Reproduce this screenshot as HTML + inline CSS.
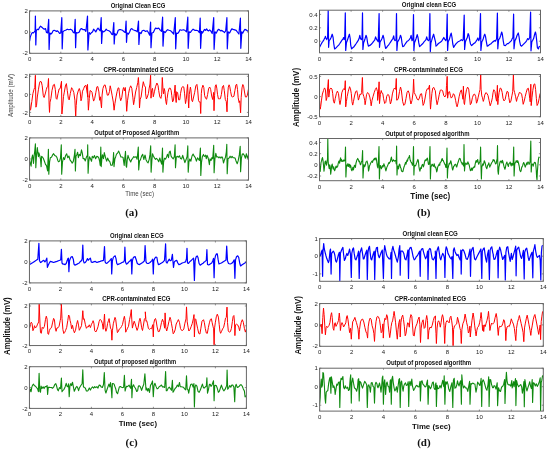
<!DOCTYPE html>
<html><head><meta charset="utf-8"><style>html,body{margin:0;padding:0;background:#fff;width:550px;height:451px;overflow:hidden}svg{display:block;filter:blur(0.3px)}</style></head>
<body>
<svg width="550" height="451" viewBox="0 0 550 451">
<rect width="550" height="451" fill="#fff"/>
<clipPath id="ca1"><rect x="29.55" y="10.9" width="218.95" height="42.4"/></clipPath>
<polyline clip-path="url(#ca1)" points="29.6,41.2 30.2,37.4 31.3,34.1 32.4,32.5 33.5,32.8 34.3,31.9 35.1,30.8 35.4,16.1 35.8,45.0 36.3,30.8 37.3,29.2 38.4,29.7 39.5,27.5 40.5,26.2 41.6,27.0 43.3,28.6 44.4,29.2 45.5,28.6 46.5,32.5 47.6,33.0 48.7,19.4 49.1,49.4 49.8,33.0 50.9,34.1 52.0,33.0 53.1,30.8 54.2,30.3 55.3,30.8 56.4,31.4 57.5,30.8 58.5,31.9 59.6,33.5 60.7,33.0 61.8,17.7 62.2,48.8 62.9,31.9 64.0,30.8 65.6,30.3 67.3,29.2 68.9,29.7 70.5,29.2 72.2,30.3 73.3,32.5 74.4,33.0 75.2,19.4 75.6,47.7 76.2,32.5 77.6,33.0 79.3,31.9 80.4,29.2 81.5,28.6 83.1,29.7 84.7,29.7 85.8,31.4 86.0,30.8 87.5,16.1 87.9,49.9 89.1,32.5 90.4,34.1 91.5,32.5 92.5,31.9 93.6,29.2 94.7,30.3 95.8,31.9 96.9,29.7 98.0,28.1 99.1,29.7 100.2,30.8 101.2,17.7 101.6,43.4 102.4,30.8 103.5,31.9 105.1,30.8 106.2,29.2 107.3,30.3 108.9,30.8 110.5,31.9 111.6,34.1 112.7,34.6 113.8,22.6 114.2,43.9 114.9,33.5 116.0,35.2 117.1,33.5 118.2,30.3 119.3,29.7 120.9,29.7 122.5,30.3 124.2,31.9 125.3,32.5 126.1,21.0 126.5,42.3 127.2,33.0 128.5,34.1 129.6,31.9 130.7,29.2 131.8,28.6 132.9,29.7 134.5,30.3 136.2,30.8 137.3,31.9 138.5,21.0 138.9,44.5 139.7,32.5 141.1,33.5 142.2,30.8 143.8,30.3 145.6,31.4 147.3,30.8 148.9,33.5 149.7,35.2 150.6,22.1 151.0,47.7 151.9,33.0 153.3,32.5 154.4,30.3 155.5,28.1 157.1,28.6 158.7,28.1 160.4,30.3 161.5,31.4 162.6,17.2 163.0,46.1 163.9,31.4 165.3,32.5 166.4,30.8 167.5,29.7 169.1,30.3 170.7,30.8 172.4,32.5 173.7,34.1 175.3,17.7 175.7,48.8 176.5,33.0 177.8,33.5 178.9,31.9 180.0,29.7 181.6,30.3 183.3,29.7 184.9,30.3 186.5,31.9 187.8,17.2 188.2,48.3 189.1,31.9 190.4,32.5 191.5,30.8 193.1,29.2 194.7,30.3 196.4,30.3 198.0,30.8 199.4,32.5 200.2,18.2 200.6,48.3 201.5,31.4 202.5,33.0 203.6,30.9 204.6,29.4 205.6,30.4 206.6,28.9 207.6,30.4 208.7,30.9 209.7,29.9 210.7,30.9 212.2,33.5 213.7,17.7 214.1,49.3 215.1,31.9 216.3,33.0 217.3,30.9 218.4,29.4 219.6,29.9 220.9,30.9 221.9,30.4 223.2,31.4 224.5,32.5 225.7,30.9 226.9,17.7 227.3,48.8 228.2,31.9 229.6,33.0 230.6,30.9 231.8,28.9 233.1,29.4 234.7,29.9 236.2,30.4 237.7,32.5 238.9,34.0 240.4,18.2 240.8,48.3 241.8,31.9 242.8,33.0 243.8,30.9 244.9,29.4 245.9,29.9 246.9,30.4 248.4,31.4" fill="none" stroke="#0000ff" stroke-width="1.2" stroke-linejoin="round"/>
<rect x="29.55" y="10.9" width="218.95" height="42.40" fill="none" stroke="#666666" stroke-width="1"/>
<line x1="29.6" y1="53.3" x2="29.6" y2="51.699999999999996" stroke="#666666" stroke-width="0.7"/>
<line x1="29.6" y1="10.9" x2="29.6" y2="12.5" stroke="#666666" stroke-width="0.7"/>
<text x="29.6" y="61.2" text-anchor="middle" style="font-family:'Liberation Sans',Arial,sans-serif;font-size:6.0px;fill:#222">0</text>
<line x1="60.8" y1="53.3" x2="60.8" y2="51.699999999999996" stroke="#666666" stroke-width="0.7"/>
<line x1="60.8" y1="10.9" x2="60.8" y2="12.5" stroke="#666666" stroke-width="0.7"/>
<text x="60.8" y="61.2" text-anchor="middle" style="font-family:'Liberation Sans',Arial,sans-serif;font-size:6.0px;fill:#222">2</text>
<line x1="92.1" y1="53.3" x2="92.1" y2="51.699999999999996" stroke="#666666" stroke-width="0.7"/>
<line x1="92.1" y1="10.9" x2="92.1" y2="12.5" stroke="#666666" stroke-width="0.7"/>
<text x="92.1" y="61.2" text-anchor="middle" style="font-family:'Liberation Sans',Arial,sans-serif;font-size:6.0px;fill:#222">4</text>
<line x1="123.4" y1="53.3" x2="123.4" y2="51.699999999999996" stroke="#666666" stroke-width="0.7"/>
<line x1="123.4" y1="10.9" x2="123.4" y2="12.5" stroke="#666666" stroke-width="0.7"/>
<text x="123.4" y="61.2" text-anchor="middle" style="font-family:'Liberation Sans',Arial,sans-serif;font-size:6.0px;fill:#222">6</text>
<line x1="154.7" y1="53.3" x2="154.7" y2="51.699999999999996" stroke="#666666" stroke-width="0.7"/>
<line x1="154.7" y1="10.9" x2="154.7" y2="12.5" stroke="#666666" stroke-width="0.7"/>
<text x="154.7" y="61.2" text-anchor="middle" style="font-family:'Liberation Sans',Arial,sans-serif;font-size:6.0px;fill:#222">8</text>
<line x1="185.9" y1="53.3" x2="185.9" y2="51.699999999999996" stroke="#666666" stroke-width="0.7"/>
<line x1="185.9" y1="10.9" x2="185.9" y2="12.5" stroke="#666666" stroke-width="0.7"/>
<text x="185.9" y="61.2" text-anchor="middle" style="font-family:'Liberation Sans',Arial,sans-serif;font-size:6.0px;fill:#222">10</text>
<line x1="217.2" y1="53.3" x2="217.2" y2="51.699999999999996" stroke="#666666" stroke-width="0.7"/>
<line x1="217.2" y1="10.9" x2="217.2" y2="12.5" stroke="#666666" stroke-width="0.7"/>
<text x="217.2" y="61.2" text-anchor="middle" style="font-family:'Liberation Sans',Arial,sans-serif;font-size:6.0px;fill:#222">12</text>
<line x1="248.5" y1="53.3" x2="248.5" y2="51.699999999999996" stroke="#666666" stroke-width="0.7"/>
<line x1="248.5" y1="10.9" x2="248.5" y2="12.5" stroke="#666666" stroke-width="0.7"/>
<text x="248.5" y="61.2" text-anchor="middle" style="font-family:'Liberation Sans',Arial,sans-serif;font-size:6.0px;fill:#222">14</text>
<line x1="29.55" y1="10.9" x2="31.150000000000002" y2="10.9" stroke="#666666" stroke-width="0.7"/>
<line x1="248.5" y1="10.9" x2="246.9" y2="10.9" stroke="#666666" stroke-width="0.7"/>
<text x="27.8" y="13.0" text-anchor="end" style="font-family:'Liberation Sans',Arial,sans-serif;font-size:6.0px;fill:#222">2</text>
<line x1="29.55" y1="32.1" x2="31.150000000000002" y2="32.1" stroke="#666666" stroke-width="0.7"/>
<line x1="248.5" y1="32.1" x2="246.9" y2="32.1" stroke="#666666" stroke-width="0.7"/>
<text x="27.8" y="34.2" text-anchor="end" style="font-family:'Liberation Sans',Arial,sans-serif;font-size:6.0px;fill:#222">0</text>
<line x1="29.55" y1="53.3" x2="31.150000000000002" y2="53.3" stroke="#666666" stroke-width="0.7"/>
<line x1="248.5" y1="53.3" x2="246.9" y2="53.3" stroke="#666666" stroke-width="0.7"/>
<text x="27.8" y="55.4" text-anchor="end" style="font-family:'Liberation Sans',Arial,sans-serif;font-size:6.0px;fill:#222">-2</text>
<text x="138.05" y="8.1" text-anchor="middle" textLength="54.60" lengthAdjust="spacingAndGlyphs" style="font-family:'Liberation Sans',Arial,sans-serif;font-weight:bold;font-size:6.6px;fill:#111">Original Clean ECG</text>
<clipPath id="ca2"><rect x="29.55" y="74.25" width="218.95" height="42.25"/></clipPath>
<polyline clip-path="url(#ca2)" points="29.6,102.5 30.2,110.3 30.7,109.3 31.8,101.5 32.9,93.7 34.0,89.3 34.8,87.4 35.4,75.3 35.9,107.2 36.5,105.7 37.3,97.0 38.4,89.8 39.5,83.1 40.2,81.4 41.3,81.8 42.2,85.7 43.3,95.7 44.1,97.5 45.2,94.0 46.3,89.6 47.1,87.1 47.9,86.3 48.5,78.5 49.1,104.1 49.5,112.4 50.0,102.2 50.9,98.6 52.0,90.4 53.3,85.0 54.4,84.3 55.3,89.5 56.1,98.3 56.9,99.3 58.0,93.7 59.1,89.0 60.2,88.5 61.5,81.3 61.9,114.0 62.7,105.9 63.5,96.4 64.3,92.2 65.4,86.0 66.4,83.6 67.3,90.7 68.4,98.7 69.2,99.9 70.3,93.5 71.6,87.7 72.7,89.5 73.8,92.5 74.9,100.2 75.7,116.7 76.2,105.6 77.1,95.0 78.2,91.0 79.3,88.5 80.1,91.1 81.0,100.8 81.7,98.3 82.5,91.2 83.6,88.8 84.7,86.0 85.8,85.3 86.9,90.1 87.8,97.1 86.9,86.6 87.5,84.4 88.0,100.4 88.4,110.2 89.3,98.6 90.1,90.5 90.9,90.9 92.0,92.3 92.8,97.2 93.6,101.1 94.7,98.4 95.8,92.7 96.9,86.8 97.8,86.6 98.9,91.9 99.6,100.3 100.4,96.8 101.1,104.7 101.5,107.9 102.1,95.0 102.9,88.6 104.0,85.4 105.1,84.9 106.2,89.4 107.3,95.2 108.4,95.1 109.5,91.4 110.2,85.8 111.1,89.8 112.2,95.8 113.3,102.1 114.1,110.2 114.9,103.7 116.0,97.1 117.1,91.5 118.2,87.8 118.9,88.0 119.8,96.9 120.7,100.7 121.8,97.4 122.9,89.6 123.6,87.5 124.4,90.8 125.3,87.5 126.1,99.8 126.7,111.3 127.5,100.8 128.5,93.8 129.6,88.4 130.7,85.8 131.8,88.3 132.9,97.8 133.6,104.7 134.5,99.3 135.6,92.0 136.7,87.5 137.8,82.6 138.4,77.5 138.9,85.3 139.5,108.0 140.2,99.2 141.1,97.0 142.2,88.8 143.3,81.7 144.4,85.8 145.5,87.1 145.6,93.9 146.4,99.0 147.3,97.1 148.4,93.6 149.2,88.1 150.0,84.0 150.6,75.3 151.0,98.2 151.6,90.6 152.5,88.3 153.3,96.8 154.4,91.8 155.5,86.8 156.9,83.0 158.0,85.4 158.7,90.5 159.8,96.9 160.9,98.4 161.7,94.3 162.3,77.5 163.0,89.9 163.6,93.8 164.2,88.5 164.9,91.3 165.8,101.3 166.5,104.5 167.1,98.5 168.0,92.4 169.1,88.3 170.2,88.1 171.1,90.3 171.8,95.7 172.6,101.9 173.5,100.0 174.3,93.3 175.1,85.1 175.6,97.0 176.2,102.5 176.7,91.7 177.6,92.6 178.7,99.9 179.8,99.7 180.5,93.7 181.6,88.1 182.7,86.5 183.8,87.1 184.6,93.8 185.5,103.6 186.3,99.4 187.1,89.1 187.6,84.5 188.2,98.8 188.7,108.0 189.3,94.3 190.4,87.1 190.9,89.8 191.8,100.3 192.5,101.7 193.6,97.0 194.7,92.3 195.8,85.9 196.9,84.4 197.7,90.1 198.5,100.3 199.4,102.1 200.2,101.9 200.7,113.5 201.3,93.7 201.8,88.8 202.9,85.2 203.8,87.5 204.6,95.5 205.6,98.4 206.6,99.2 207.6,94.6 208.7,88.3 209.7,87.0 210.7,89.6 211.7,96.0 212.7,99.5 213.6,92.4 214.0,110.7 214.6,95.3 215.3,86.0 216.1,84.7 216.8,88.2 217.5,94.3 218.4,98.8 219.4,98.8 220.4,98.7 221.4,94.5 222.4,86.9 223.5,85.4 224.3,90.7 225.3,99.4 226.3,101.6 227.0,111.8 227.5,97.4 228.3,87.2 229.1,84.8 229.8,86.8 230.6,91.4 231.6,96.4 232.6,96.9 233.9,96.3 234.9,90.6 235.9,85.0 236.7,84.2 237.5,89.4 238.2,97.8 239.1,102.6 239.8,100.8 240.6,112.8 241.2,97.3 242.0,87.9 242.8,84.5 243.6,86.2 244.5,92.0 245.4,96.9 246.4,97.1 247.4,95.1 248.4,89.3" fill="none" stroke="#ff0000" stroke-width="1.0" stroke-linejoin="round"/>
<rect x="29.55" y="74.25" width="218.95" height="42.25" fill="none" stroke="#666666" stroke-width="1"/>
<line x1="29.6" y1="116.5" x2="29.6" y2="114.9" stroke="#666666" stroke-width="0.7"/>
<line x1="29.6" y1="74.25" x2="29.6" y2="75.85" stroke="#666666" stroke-width="0.7"/>
<text x="29.6" y="124.4" text-anchor="middle" style="font-family:'Liberation Sans',Arial,sans-serif;font-size:6.0px;fill:#222">0</text>
<line x1="60.8" y1="116.5" x2="60.8" y2="114.9" stroke="#666666" stroke-width="0.7"/>
<line x1="60.8" y1="74.25" x2="60.8" y2="75.85" stroke="#666666" stroke-width="0.7"/>
<text x="60.8" y="124.4" text-anchor="middle" style="font-family:'Liberation Sans',Arial,sans-serif;font-size:6.0px;fill:#222">2</text>
<line x1="92.1" y1="116.5" x2="92.1" y2="114.9" stroke="#666666" stroke-width="0.7"/>
<line x1="92.1" y1="74.25" x2="92.1" y2="75.85" stroke="#666666" stroke-width="0.7"/>
<text x="92.1" y="124.4" text-anchor="middle" style="font-family:'Liberation Sans',Arial,sans-serif;font-size:6.0px;fill:#222">4</text>
<line x1="123.4" y1="116.5" x2="123.4" y2="114.9" stroke="#666666" stroke-width="0.7"/>
<line x1="123.4" y1="74.25" x2="123.4" y2="75.85" stroke="#666666" stroke-width="0.7"/>
<text x="123.4" y="124.4" text-anchor="middle" style="font-family:'Liberation Sans',Arial,sans-serif;font-size:6.0px;fill:#222">6</text>
<line x1="154.7" y1="116.5" x2="154.7" y2="114.9" stroke="#666666" stroke-width="0.7"/>
<line x1="154.7" y1="74.25" x2="154.7" y2="75.85" stroke="#666666" stroke-width="0.7"/>
<text x="154.7" y="124.4" text-anchor="middle" style="font-family:'Liberation Sans',Arial,sans-serif;font-size:6.0px;fill:#222">8</text>
<line x1="185.9" y1="116.5" x2="185.9" y2="114.9" stroke="#666666" stroke-width="0.7"/>
<line x1="185.9" y1="74.25" x2="185.9" y2="75.85" stroke="#666666" stroke-width="0.7"/>
<text x="185.9" y="124.4" text-anchor="middle" style="font-family:'Liberation Sans',Arial,sans-serif;font-size:6.0px;fill:#222">10</text>
<line x1="217.2" y1="116.5" x2="217.2" y2="114.9" stroke="#666666" stroke-width="0.7"/>
<line x1="217.2" y1="74.25" x2="217.2" y2="75.85" stroke="#666666" stroke-width="0.7"/>
<text x="217.2" y="124.4" text-anchor="middle" style="font-family:'Liberation Sans',Arial,sans-serif;font-size:6.0px;fill:#222">12</text>
<line x1="248.5" y1="116.5" x2="248.5" y2="114.9" stroke="#666666" stroke-width="0.7"/>
<line x1="248.5" y1="74.25" x2="248.5" y2="75.85" stroke="#666666" stroke-width="0.7"/>
<text x="248.5" y="124.4" text-anchor="middle" style="font-family:'Liberation Sans',Arial,sans-serif;font-size:6.0px;fill:#222">14</text>
<line x1="29.55" y1="76.3" x2="31.150000000000002" y2="76.3" stroke="#666666" stroke-width="0.7"/>
<line x1="248.5" y1="76.3" x2="246.9" y2="76.3" stroke="#666666" stroke-width="0.7"/>
<text x="27.8" y="78.4" text-anchor="end" style="font-family:'Liberation Sans',Arial,sans-serif;font-size:6.0px;fill:#222">2</text>
<line x1="29.55" y1="94.4" x2="31.150000000000002" y2="94.4" stroke="#666666" stroke-width="0.7"/>
<line x1="248.5" y1="94.4" x2="246.9" y2="94.4" stroke="#666666" stroke-width="0.7"/>
<text x="27.8" y="96.5" text-anchor="end" style="font-family:'Liberation Sans',Arial,sans-serif;font-size:6.0px;fill:#222">0</text>
<line x1="29.55" y1="112.4" x2="31.150000000000002" y2="112.4" stroke="#666666" stroke-width="0.7"/>
<line x1="248.5" y1="112.4" x2="246.9" y2="112.4" stroke="#666666" stroke-width="0.7"/>
<text x="27.8" y="114.5" text-anchor="end" style="font-family:'Liberation Sans',Arial,sans-serif;font-size:6.0px;fill:#222">-2</text>
<text x="138.45" y="71.5" text-anchor="middle" textLength="70.00" lengthAdjust="spacingAndGlyphs" style="font-family:'Liberation Sans',Arial,sans-serif;font-weight:bold;font-size:6.6px;fill:#111">CPR-contaminated ECG</text>
<clipPath id="ca3"><rect x="29.55" y="137.9" width="218.95" height="42.19999999999999"/></clipPath>
<polyline clip-path="url(#ca3)" points="29.6,160.1 30.4,163.5 31.1,166.2 31.8,158.2 32.6,155.0 33.5,163.4 34.0,156.9 34.8,150.6 35.4,143.7 35.8,167.7 36.5,155.7 37.3,147.5 37.8,151.8 38.4,156.6 38.9,152.9 39.8,155.9 40.5,159.2 41.1,166.6 41.6,156.4 42.4,157.0 43.3,158.3 44.4,161.3 45.5,164.4 46.5,165.7 47.6,171.0 48.4,149.2 48.8,174.3 49.6,161.9 50.4,157.5 51.5,157.3 52.5,155.2 53.6,153.7 54.7,155.4 55.8,155.9 56.9,157.3 57.7,160.2 58.5,161.8 59.6,161.1 60.5,157.8 61.3,144.8 61.7,174.3 62.5,162.0 63.5,157.6 64.5,159.6 65.6,155.5 66.7,153.8 67.8,157.8 68.9,156.0 70.0,159.8 71.1,161.3 72.2,163.1 73.3,161.4 74.4,155.1 75.0,149.2 75.4,171.0 76.0,156.2 76.9,154.5 77.6,152.2 78.4,157.7 79.3,154.4 80.4,155.7 81.5,149.9 82.3,153.1 83.1,158.7 84.2,158.5 85.3,160.9 86.4,157.1 87.5,155.2 87.7,144.8 88.1,173.2 88.7,162.0 89.5,156.8 90.4,158.6 91.5,161.3 92.3,156.2 93.4,157.8 94.5,155.6 95.6,158.8 96.7,156.4 97.8,156.6 98.9,158.3 99.6,161.0 100.2,165.5 100.8,147.0 101.2,166.6 101.8,159.6 102.4,154.7 103.5,158.6 104.3,152.5 105.1,156.0 105.9,158.8 106.7,161.2 107.6,158.1 108.7,160.5 109.8,161.6 110.9,165.3 112.2,165.3 113.1,160.6 113.6,152.5 114.0,166.6 114.9,158.7 115.7,156.7 116.5,154.2 117.6,153.1 118.7,151.1 119.8,153.9 120.9,157.0 122.0,157.0 123.1,157.6 124.2,165.5 124.7,159.4 125.5,151.4 126.1,166.0 126.6,167.3 127.2,160.0 128.0,155.3 128.8,158.1 129.6,159.7 130.7,162.0 131.6,159.7 132.7,158.3 133.8,156.6 134.9,157.4 136.0,156.6 137.1,159.2 138.3,147.0 138.7,169.9 139.5,161.1 140.5,159.6 141.6,156.1 142.7,154.3 143.8,159.5 144.9,155.4 145.1,155.1 146.0,159.7 147.1,161.8 148.1,162.8 149.2,159.3 150.0,154.4 150.7,145.9 151.1,172.1 151.9,160.3 152.5,153.8 153.3,155.7 154.4,157.9 155.5,159.3 156.5,158.3 157.6,159.5 158.7,161.8 159.8,158.0 160.9,161.8 161.7,164.2 162.5,148.1 162.9,172.1 163.6,162.1 164.5,158.2 165.6,159.1 166.7,156.6 167.5,154.2 168.5,157.6 169.3,152.1 170.2,151.1 171.1,156.1 172.1,157.7 173.2,158.8 174.3,156.7 175.1,144.8 175.5,167.7 176.3,157.1 177.3,156.3 178.4,157.2 179.5,155.8 180.5,158.6 181.6,159.0 182.7,155.4 183.8,159.0 184.9,162.6 186.0,159.8 187.1,156.3 187.8,145.9 188.2,172.1 188.9,162.1 189.8,159.0 190.9,161.2 192.0,156.0 193.1,154.1 194.2,156.2 195.3,157.7 196.4,161.2 197.5,157.8 198.5,159.1 199.4,160.5 200.4,148.1 200.8,175.4 201.5,162.5 202.4,156.5 203.5,154.4 203.6,155.6 204.6,156.4 205.6,155.2 206.3,158.7 207.1,155.4 208.0,157.4 208.7,160.5 209.4,164.6 210.0,158.8 211.0,160.5 212.0,157.5 212.7,158.8 213.7,145.2 214.1,172.7 214.9,159.1 215.8,153.4 216.8,157.1 217.8,156.7 218.9,157.8 219.9,156.8 220.9,158.1 221.9,156.8 222.6,157.8 223.5,163.0 224.5,159.7 225.5,157.1 226.3,152.1 226.8,144.2 227.2,173.7 228.0,158.7 229.1,158.0 230.1,156.2 231.1,157.8 232.1,156.4 233.1,157.8 234.2,157.7 235.2,158.3 236.2,161.6 237.2,163.8 238.2,160.7 239.3,154.9 240.2,146.2 240.6,171.7 241.4,158.2 242.3,154.1 243.3,153.9 244.4,155.5 245.4,158.2 246.4,153.7 247.4,158.1 248.4,155.4" fill="none" stroke="#0f8a0f" stroke-width="1.1" stroke-linejoin="round"/>
<rect x="29.55" y="137.9" width="218.95" height="42.20" fill="none" stroke="#666666" stroke-width="1"/>
<line x1="29.6" y1="180.1" x2="29.6" y2="178.5" stroke="#666666" stroke-width="0.7"/>
<line x1="29.6" y1="137.9" x2="29.6" y2="139.5" stroke="#666666" stroke-width="0.7"/>
<text x="29.6" y="188.0" text-anchor="middle" style="font-family:'Liberation Sans',Arial,sans-serif;font-size:6.0px;fill:#222">0</text>
<line x1="60.8" y1="180.1" x2="60.8" y2="178.5" stroke="#666666" stroke-width="0.7"/>
<line x1="60.8" y1="137.9" x2="60.8" y2="139.5" stroke="#666666" stroke-width="0.7"/>
<text x="60.8" y="188.0" text-anchor="middle" style="font-family:'Liberation Sans',Arial,sans-serif;font-size:6.0px;fill:#222">2</text>
<line x1="92.1" y1="180.1" x2="92.1" y2="178.5" stroke="#666666" stroke-width="0.7"/>
<line x1="92.1" y1="137.9" x2="92.1" y2="139.5" stroke="#666666" stroke-width="0.7"/>
<text x="92.1" y="188.0" text-anchor="middle" style="font-family:'Liberation Sans',Arial,sans-serif;font-size:6.0px;fill:#222">4</text>
<line x1="123.4" y1="180.1" x2="123.4" y2="178.5" stroke="#666666" stroke-width="0.7"/>
<line x1="123.4" y1="137.9" x2="123.4" y2="139.5" stroke="#666666" stroke-width="0.7"/>
<text x="123.4" y="188.0" text-anchor="middle" style="font-family:'Liberation Sans',Arial,sans-serif;font-size:6.0px;fill:#222">6</text>
<line x1="154.7" y1="180.1" x2="154.7" y2="178.5" stroke="#666666" stroke-width="0.7"/>
<line x1="154.7" y1="137.9" x2="154.7" y2="139.5" stroke="#666666" stroke-width="0.7"/>
<text x="154.7" y="188.0" text-anchor="middle" style="font-family:'Liberation Sans',Arial,sans-serif;font-size:6.0px;fill:#222">8</text>
<line x1="185.9" y1="180.1" x2="185.9" y2="178.5" stroke="#666666" stroke-width="0.7"/>
<line x1="185.9" y1="137.9" x2="185.9" y2="139.5" stroke="#666666" stroke-width="0.7"/>
<text x="185.9" y="188.0" text-anchor="middle" style="font-family:'Liberation Sans',Arial,sans-serif;font-size:6.0px;fill:#222">10</text>
<line x1="217.2" y1="180.1" x2="217.2" y2="178.5" stroke="#666666" stroke-width="0.7"/>
<line x1="217.2" y1="137.9" x2="217.2" y2="139.5" stroke="#666666" stroke-width="0.7"/>
<text x="217.2" y="188.0" text-anchor="middle" style="font-family:'Liberation Sans',Arial,sans-serif;font-size:6.0px;fill:#222">12</text>
<line x1="248.5" y1="180.1" x2="248.5" y2="178.5" stroke="#666666" stroke-width="0.7"/>
<line x1="248.5" y1="137.9" x2="248.5" y2="139.5" stroke="#666666" stroke-width="0.7"/>
<text x="248.5" y="188.0" text-anchor="middle" style="font-family:'Liberation Sans',Arial,sans-serif;font-size:6.0px;fill:#222">14</text>
<line x1="29.55" y1="137.9" x2="31.150000000000002" y2="137.9" stroke="#666666" stroke-width="0.7"/>
<line x1="248.5" y1="137.9" x2="246.9" y2="137.9" stroke="#666666" stroke-width="0.7"/>
<text x="27.8" y="140.0" text-anchor="end" style="font-family:'Liberation Sans',Arial,sans-serif;font-size:6.0px;fill:#222">2</text>
<line x1="29.55" y1="159.0" x2="31.150000000000002" y2="159.0" stroke="#666666" stroke-width="0.7"/>
<line x1="248.5" y1="159.0" x2="246.9" y2="159.0" stroke="#666666" stroke-width="0.7"/>
<text x="27.8" y="161.1" text-anchor="end" style="font-family:'Liberation Sans',Arial,sans-serif;font-size:6.0px;fill:#222">0</text>
<line x1="29.55" y1="180.1" x2="31.150000000000002" y2="180.1" stroke="#666666" stroke-width="0.7"/>
<line x1="248.5" y1="180.1" x2="246.9" y2="180.1" stroke="#666666" stroke-width="0.7"/>
<text x="27.8" y="182.2" text-anchor="end" style="font-family:'Liberation Sans',Arial,sans-serif;font-size:6.0px;fill:#222">-2</text>
<text x="136.75" y="135.1" text-anchor="middle" textLength="84.80" lengthAdjust="spacingAndGlyphs" style="font-family:'Liberation Sans',Arial,sans-serif;font-weight:bold;font-size:6.6px;fill:#111">Output of Proposed Algorithm</text>
<clipPath id="cb1"><rect x="319.5" y="10.2" width="221.0" height="42.599999999999994"/></clipPath>
<polyline clip-path="url(#cb1)" points="319.6,47.3 320.7,45.1 321.8,42.9 322.9,41.3 324.0,39.6 324.8,38.0 325.4,36.4 325.9,38.0 326.7,39.6 327.6,37.5 328.2,10.2 328.6,47.3 329.1,40.7 330.0,39.6 331.1,37.5 332.2,34.2 333.1,37.5 333.8,44.0 334.6,48.9 335.5,48.4 336.5,47.3 337.6,46.2 338.7,45.1 339.8,43.5 340.9,41.8 342.0,40.2 342.9,39.1 343.6,37.5 344.2,39.6 344.7,38.5 345.3,12.9 345.7,50.5 346.4,42.9 347.2,40.7 348.3,37.5 349.4,34.2 350.2,38.5 350.7,45.1 351.6,48.9 352.7,47.8 354.0,46.7 355.1,45.1 356.2,43.5 357.3,41.8 358.4,40.2 359.2,38.0 359.8,35.3 360.5,38.5 361.4,39.6 362.0,38.5 362.5,12.9 362.9,49.5 363.6,42.9 364.4,40.7 365.1,38.5 366.0,35.3 366.8,37.5 367.6,42.9 368.4,46.2 369.3,45.6 370.4,45.1 371.5,44.0 372.5,42.9 373.6,41.3 374.7,40.2 375.6,36.9 376.4,39.1 377.5,40.7 378.2,41.8 379.1,13.5 379.5,47.3 380.1,41.8 380.9,40.7 382.0,38.5 383.1,35.3 383.9,38.5 384.7,44.0 385.6,48.4 386.4,47.8 387.5,46.2 388.5,45.1 389.6,43.5 390.7,41.8 391.8,40.2 392.9,38.5 393.7,35.8 394.3,39.6 395.1,40.7 396.0,39.6 396.5,13.5 396.9,50.5 397.6,41.8 398.4,40.7 399.5,38.5 400.5,35.3 401.3,37.5 402.0,42.9 402.7,46.7 403.8,46.2 404.9,44.5 406.0,42.9 407.1,41.3 408.2,40.7 409.3,39.6 410.4,38.0 411.1,35.3 412.0,40.7 412.9,39.6 413.5,14.5 413.9,50.5 414.5,42.9 415.3,40.7 416.1,38.5 417.2,34.7 418.0,37.5 418.8,42.9 419.6,46.7 420.7,45.6 421.8,44.5 422.9,43.5 424.0,41.8 425.1,40.7 426.0,39.6 426.7,36.9 427.5,39.6 428.4,40.7 429.2,39.6 429.9,13.5 430.3,51.6 430.9,42.9 431.6,40.7 432.5,37.5 433.6,34.2 434.4,37.5 435.5,41.8 436.0,46.2 437.1,45.1 438.4,43.5 440.0,42.4 441.6,41.3 442.9,39.1 443.8,37.5 444.7,39.1 445.8,40.7 446.5,38.5 447.2,14.0 447.6,50.5 448.2,41.8 449.3,39.6 450.4,35.3 451.2,33.1 452.0,37.5 452.8,44.0 453.6,47.3 454.7,45.6 455.8,44.0 456.9,42.9 458.0,41.8 459.1,41.3 460.2,40.7 461.3,39.6 462.4,40.7 463.2,39.6 464.2,15.1 464.6,49.5 465.4,41.8 466.3,39.6 467.3,37.5 468.1,33.6 468.9,35.3 469.8,40.7 470.5,44.0 471.6,45.6 472.7,44.5 473.8,43.5 474.9,42.9 476.0,41.3 477.1,39.6 477.9,38.0 478.7,40.7 479.6,38.5 480.5,13.5 480.9,50.5 481.8,41.8 482.5,40.7 483.3,38.5 484.2,35.3 484.8,34.2 485.5,36.4 486.4,41.8 487.2,46.2 488.3,45.6 489.6,44.5 490.7,44.0 491.8,42.9 493.5,41.3 493.5,41.6 494.5,40.6 495.6,41.1 496.6,38.6 497.4,13.1 497.8,48.8 498.6,39.6 499.6,38.6 500.7,35.5 501.7,32.0 502.4,34.5 503.2,40.6 504.0,45.2 505.3,45.7 506.3,44.7 507.3,43.7 508.3,43.7 509.3,42.7 510.4,41.6 511.4,40.6 512.2,38.6 512.9,37.6 513.6,14.1 514.0,48.8 514.9,40.6 516.0,38.6 517.0,35.5 518.3,33.0 519.0,36.5 519.7,41.6 520.5,45.2 521.6,46.2 522.6,45.2 523.6,44.2 524.6,43.2 525.6,42.2 526.7,40.6 527.7,38.6 528.7,39.6 529.7,37.6 530.6,12.1 531.0,50.8 531.8,41.6 532.6,40.6 533.6,38.6 534.6,34.5 535.4,32.0 536.0,34.5 536.7,40.6 537.4,47.8 538.4,48.8 539.1,46.7 539.9,46.2" fill="none" stroke="#0000ff" stroke-width="1.2" stroke-linejoin="round"/>
<rect x="319.5" y="10.2" width="221.00" height="42.60" fill="none" stroke="#666666" stroke-width="1"/>
<line x1="319.5" y1="52.8" x2="319.5" y2="51.199999999999996" stroke="#666666" stroke-width="0.7"/>
<line x1="319.5" y1="10.2" x2="319.5" y2="11.799999999999999" stroke="#666666" stroke-width="0.7"/>
<text x="319.5" y="60.7" text-anchor="middle" style="font-family:'Liberation Sans',Arial,sans-serif;font-size:6.0px;fill:#222">0</text>
<line x1="351.1" y1="52.8" x2="351.1" y2="51.199999999999996" stroke="#666666" stroke-width="0.7"/>
<line x1="351.1" y1="10.2" x2="351.1" y2="11.799999999999999" stroke="#666666" stroke-width="0.7"/>
<text x="351.1" y="60.7" text-anchor="middle" style="font-family:'Liberation Sans',Arial,sans-serif;font-size:6.0px;fill:#222">2</text>
<line x1="382.6" y1="52.8" x2="382.6" y2="51.199999999999996" stroke="#666666" stroke-width="0.7"/>
<line x1="382.6" y1="10.2" x2="382.6" y2="11.799999999999999" stroke="#666666" stroke-width="0.7"/>
<text x="382.6" y="60.7" text-anchor="middle" style="font-family:'Liberation Sans',Arial,sans-serif;font-size:6.0px;fill:#222">4</text>
<line x1="414.2" y1="52.8" x2="414.2" y2="51.199999999999996" stroke="#666666" stroke-width="0.7"/>
<line x1="414.2" y1="10.2" x2="414.2" y2="11.799999999999999" stroke="#666666" stroke-width="0.7"/>
<text x="414.2" y="60.7" text-anchor="middle" style="font-family:'Liberation Sans',Arial,sans-serif;font-size:6.0px;fill:#222">6</text>
<line x1="445.8" y1="52.8" x2="445.8" y2="51.199999999999996" stroke="#666666" stroke-width="0.7"/>
<line x1="445.8" y1="10.2" x2="445.8" y2="11.799999999999999" stroke="#666666" stroke-width="0.7"/>
<text x="445.8" y="60.7" text-anchor="middle" style="font-family:'Liberation Sans',Arial,sans-serif;font-size:6.0px;fill:#222">8</text>
<line x1="477.4" y1="52.8" x2="477.4" y2="51.199999999999996" stroke="#666666" stroke-width="0.7"/>
<line x1="477.4" y1="10.2" x2="477.4" y2="11.799999999999999" stroke="#666666" stroke-width="0.7"/>
<text x="477.4" y="60.7" text-anchor="middle" style="font-family:'Liberation Sans',Arial,sans-serif;font-size:6.0px;fill:#222">10</text>
<line x1="508.9" y1="52.8" x2="508.9" y2="51.199999999999996" stroke="#666666" stroke-width="0.7"/>
<line x1="508.9" y1="10.2" x2="508.9" y2="11.799999999999999" stroke="#666666" stroke-width="0.7"/>
<text x="508.9" y="60.7" text-anchor="middle" style="font-family:'Liberation Sans',Arial,sans-serif;font-size:6.0px;fill:#222">12</text>
<line x1="540.5" y1="52.8" x2="540.5" y2="51.199999999999996" stroke="#666666" stroke-width="0.7"/>
<line x1="540.5" y1="10.2" x2="540.5" y2="11.799999999999999" stroke="#666666" stroke-width="0.7"/>
<text x="540.5" y="60.7" text-anchor="middle" style="font-family:'Liberation Sans',Arial,sans-serif;font-size:6.0px;fill:#222">14</text>
<line x1="319.5" y1="14.4" x2="321.1" y2="14.4" stroke="#666666" stroke-width="0.7"/>
<line x1="540.5" y1="14.4" x2="538.9" y2="14.4" stroke="#666666" stroke-width="0.7"/>
<text x="317.7" y="16.5" text-anchor="end" style="font-family:'Liberation Sans',Arial,sans-serif;font-size:6.0px;fill:#222">0.4</text>
<line x1="319.5" y1="27.8" x2="321.1" y2="27.8" stroke="#666666" stroke-width="0.7"/>
<line x1="540.5" y1="27.8" x2="538.9" y2="27.8" stroke="#666666" stroke-width="0.7"/>
<text x="317.7" y="29.9" text-anchor="end" style="font-family:'Liberation Sans',Arial,sans-serif;font-size:6.0px;fill:#222">0.2</text>
<line x1="319.5" y1="41.2" x2="321.1" y2="41.2" stroke="#666666" stroke-width="0.7"/>
<line x1="540.5" y1="41.2" x2="538.9" y2="41.2" stroke="#666666" stroke-width="0.7"/>
<text x="317.7" y="43.3" text-anchor="end" style="font-family:'Liberation Sans',Arial,sans-serif;font-size:6.0px;fill:#222">0</text>
<text x="429.05" y="7.4" text-anchor="middle" textLength="54.40" lengthAdjust="spacingAndGlyphs" style="font-family:'Liberation Sans',Arial,sans-serif;font-weight:bold;font-size:6.6px;fill:#111">Original clean ECG</text>
<clipPath id="cb2"><rect x="319.5" y="74.55" width="221.0" height="42.150000000000006"/></clipPath>
<polyline clip-path="url(#cb2)" points="319.6,100.4 320.2,109.2 320.7,106.6 321.5,100.1 322.4,94.0 323.5,90.6 324.5,87.9 325.4,89.4 326.2,100.5 326.9,97.8 327.8,86.1 328.4,79.6 328.8,97.1 329.8,89.1 330.9,88.0 332.0,89.1 332.7,93.6 333.5,101.5 334.4,103.2 335.2,98.7 336.3,93.8 337.4,91.1 338.5,93.6 339.3,100.8 340.0,104.5 340.9,99.6 341.8,92.8 342.9,89.9 344.0,88.5 344.7,89.8 345.3,80.7 345.7,106.9 346.4,101.5 347.2,96.4 348.3,91.2 349.6,86.7 350.5,88.9 351.3,93.6 352.0,101.8 352.7,105.1 353.5,101.3 354.5,96.0 355.6,91.8 356.7,90.7 357.5,93.9 358.4,100.1 359.2,97.7 360.0,94.1 360.9,94.6 361.6,92.6 362.4,77.5 362.9,93.7 363.8,96.5 364.7,100.2 365.1,104.7 365.8,100.3 366.5,94.7 367.6,92.5 368.7,93.6 369.8,97.1 370.6,101.3 371.2,105.8 372.0,100.5 373.1,96.3 374.2,92.6 375.3,89.5 376.4,87.7 377.5,91.7 377.6,100.4 378.4,94.1 379.1,81.8 379.5,103.6 380.4,94.4 381.2,90.5 382.0,93.2 382.8,93.5 383.6,98.8 384.7,103.5 385.8,102.4 386.7,96.3 387.8,94.4 388.9,95.3 389.6,98.8 390.4,104.0 391.3,101.4 392.4,93.9 393.5,89.7 394.5,88.0 395.6,89.4 396.3,78.5 396.7,100.2 397.5,99.9 398.4,98.0 399.5,91.6 400.5,87.0 401.3,89.8 402.0,95.9 402.7,101.7 403.8,105.4 404.9,104.2 406.0,98.5 407.1,92.3 408.2,90.8 409.3,93.6 410.0,99.2 410.9,104.0 412.0,100.5 413.1,92.0 413.6,79.1 414.2,92.5 415.1,94.2 416.1,96.2 417.2,99.2 418.3,100.1 419.4,98.1 420.5,94.0 421.6,93.7 422.4,99.6 423.1,105.4 424.0,103.5 425.1,98.0 426.2,91.4 427.3,88.7 428.4,89.2 429.5,85.1 430.0,99.6 430.5,109.1 431.1,102.2 431.9,93.4 432.7,88.2 433.8,87.4 434.9,90.2 435.3,90.5 436.2,99.2 437.1,104.7 438.1,100.6 439.2,94.8 440.3,90.2 441.6,89.9 442.7,91.0 443.8,95.7 444.9,97.0 446.0,94.8 446.5,85.7 447.2,76.4 447.6,98.2 448.4,92.3 449.5,91.6 450.4,95.3 451.2,98.1 452.3,96.9 453.4,93.7 454.5,95.1 455.6,100.3 456.4,104.6 457.1,106.8 458.0,103.2 459.1,96.8 460.2,92.3 461.3,89.9 462.1,94.2 463.0,99.3 463.4,86.2 464.0,102.9 464.5,104.5 465.4,96.0 466.5,89.7 467.6,87.1 468.7,89.1 469.6,97.0 470.3,104.7 471.3,103.2 472.4,97.7 473.5,94.6 474.6,94.1 475.7,96.5 476.5,103.2 477.3,101.4 478.2,97.1 479.3,92.3 480.0,89.6 480.7,74.2 481.1,89.3 481.8,95.9 482.5,97.8 483.3,101.4 484.0,99.2 484.7,95.1 485.8,92.7 486.9,93.3 488.0,95.5 489.1,100.6 490.2,105.8 491.3,102.6 492.4,97.8 493.0,92.8 493.8,89.7 494.9,91.5 495.9,98.1 496.6,101.2 497.4,85.3 497.8,104.6 498.3,98.3 499.1,92.6 500.2,88.0 501.2,88.6 502.2,92.5 503.0,98.3 504.0,100.9 505.1,99.6 506.1,94.8 507.1,91.3 508.1,92.0 508.8,97.5 509.8,102.8 510.9,101.1 511.9,95.8 512.7,91.8 513.4,74.5 513.9,89.9 514.6,92.5 515.5,96.2 516.5,101.4 517.3,97.8 518.3,95.8 519.3,92.5 520.5,92.8 521.6,94.1 522.4,98.3 523.2,104.3 524.2,101.1 525.2,96.6 526.3,92.2 527.3,88.8 528.3,88.2 529.0,92.0 529.7,98.4 530.2,101.8 530.8,84.2 531.2,105.6 532.0,97.4 532.8,90.5 533.8,84.5 534.8,83.9 535.6,89.5 536.4,98.7 537.1,105.5 538.1,103.5 539.1,98.7 540.1,93.4" fill="none" stroke="#ff0000" stroke-width="1.0" stroke-linejoin="round"/>
<rect x="319.5" y="74.55" width="221.00" height="42.15" fill="none" stroke="#666666" stroke-width="1"/>
<line x1="319.5" y1="116.7" x2="319.5" y2="115.10000000000001" stroke="#666666" stroke-width="0.7"/>
<line x1="319.5" y1="74.55" x2="319.5" y2="76.14999999999999" stroke="#666666" stroke-width="0.7"/>
<text x="319.5" y="124.6" text-anchor="middle" style="font-family:'Liberation Sans',Arial,sans-serif;font-size:6.0px;fill:#222">0</text>
<line x1="351.1" y1="116.7" x2="351.1" y2="115.10000000000001" stroke="#666666" stroke-width="0.7"/>
<line x1="351.1" y1="74.55" x2="351.1" y2="76.14999999999999" stroke="#666666" stroke-width="0.7"/>
<text x="351.1" y="124.6" text-anchor="middle" style="font-family:'Liberation Sans',Arial,sans-serif;font-size:6.0px;fill:#222">2</text>
<line x1="382.6" y1="116.7" x2="382.6" y2="115.10000000000001" stroke="#666666" stroke-width="0.7"/>
<line x1="382.6" y1="74.55" x2="382.6" y2="76.14999999999999" stroke="#666666" stroke-width="0.7"/>
<text x="382.6" y="124.6" text-anchor="middle" style="font-family:'Liberation Sans',Arial,sans-serif;font-size:6.0px;fill:#222">4</text>
<line x1="414.2" y1="116.7" x2="414.2" y2="115.10000000000001" stroke="#666666" stroke-width="0.7"/>
<line x1="414.2" y1="74.55" x2="414.2" y2="76.14999999999999" stroke="#666666" stroke-width="0.7"/>
<text x="414.2" y="124.6" text-anchor="middle" style="font-family:'Liberation Sans',Arial,sans-serif;font-size:6.0px;fill:#222">6</text>
<line x1="445.8" y1="116.7" x2="445.8" y2="115.10000000000001" stroke="#666666" stroke-width="0.7"/>
<line x1="445.8" y1="74.55" x2="445.8" y2="76.14999999999999" stroke="#666666" stroke-width="0.7"/>
<text x="445.8" y="124.6" text-anchor="middle" style="font-family:'Liberation Sans',Arial,sans-serif;font-size:6.0px;fill:#222">8</text>
<line x1="477.4" y1="116.7" x2="477.4" y2="115.10000000000001" stroke="#666666" stroke-width="0.7"/>
<line x1="477.4" y1="74.55" x2="477.4" y2="76.14999999999999" stroke="#666666" stroke-width="0.7"/>
<text x="477.4" y="124.6" text-anchor="middle" style="font-family:'Liberation Sans',Arial,sans-serif;font-size:6.0px;fill:#222">10</text>
<line x1="508.9" y1="116.7" x2="508.9" y2="115.10000000000001" stroke="#666666" stroke-width="0.7"/>
<line x1="508.9" y1="74.55" x2="508.9" y2="76.14999999999999" stroke="#666666" stroke-width="0.7"/>
<text x="508.9" y="124.6" text-anchor="middle" style="font-family:'Liberation Sans',Arial,sans-serif;font-size:6.0px;fill:#222">12</text>
<line x1="540.5" y1="116.7" x2="540.5" y2="115.10000000000001" stroke="#666666" stroke-width="0.7"/>
<line x1="540.5" y1="74.55" x2="540.5" y2="76.14999999999999" stroke="#666666" stroke-width="0.7"/>
<text x="540.5" y="124.6" text-anchor="middle" style="font-family:'Liberation Sans',Arial,sans-serif;font-size:6.0px;fill:#222">14</text>
<line x1="319.5" y1="76.4" x2="321.1" y2="76.4" stroke="#666666" stroke-width="0.7"/>
<line x1="540.5" y1="76.4" x2="538.9" y2="76.4" stroke="#666666" stroke-width="0.7"/>
<text x="317.7" y="78.5" text-anchor="end" style="font-family:'Liberation Sans',Arial,sans-serif;font-size:6.0px;fill:#222">0.5</text>
<line x1="319.5" y1="96.6" x2="321.1" y2="96.6" stroke="#666666" stroke-width="0.7"/>
<line x1="540.5" y1="96.6" x2="538.9" y2="96.6" stroke="#666666" stroke-width="0.7"/>
<text x="317.7" y="98.7" text-anchor="end" style="font-family:'Liberation Sans',Arial,sans-serif;font-size:6.0px;fill:#222">0</text>
<line x1="319.5" y1="116.7" x2="321.1" y2="116.7" stroke="#666666" stroke-width="0.7"/>
<line x1="540.5" y1="116.7" x2="538.9" y2="116.7" stroke="#666666" stroke-width="0.7"/>
<text x="317.7" y="118.8" text-anchor="end" style="font-family:'Liberation Sans',Arial,sans-serif;font-size:6.0px;fill:#222">-0.5</text>
<text x="428.45" y="71.8" text-anchor="middle" textLength="68.80" lengthAdjust="spacingAndGlyphs" style="font-family:'Liberation Sans',Arial,sans-serif;font-weight:bold;font-size:6.6px;fill:#111">CPR-contaminated ECG</text>
<clipPath id="cb3"><rect x="319.5" y="138.5" width="221.0" height="42.19999999999999"/></clipPath>
<polyline clip-path="url(#cb3)" points="319.8,165.9 320.2,171.4 320.6,166.9 321.0,162.7 321.5,161.2 322.0,158.8 322.5,157.6 323.0,160.3 323.5,165.2 324.0,171.2 324.5,167.2 325.0,162.1 325.5,161.1 326.0,163.6 326.5,165.2 327.0,161.2 327.5,159.3 327.8,139.0 328.2,162.7 328.7,165.9 329.2,168.6 329.7,164.9 330.2,166.6 330.7,174.2 331.2,170.1 331.7,165.5 332.2,164.1 332.7,167.0 333.2,169.0 333.7,166.9 334.2,169.7 334.7,170.7 335.2,169.0 335.7,167.1 336.2,166.0 336.7,167.7 337.2,167.0 337.7,166.3 338.1,163.8 338.6,161.8 339.1,160.9 339.6,163.2 340.1,159.8 340.6,157.8 341.1,161.1 341.6,159.6 342.1,161.5 342.6,160.9 343.1,161.4 343.6,160.0 344.1,160.7 344.6,160.9 345.1,158.7 345.5,147.0 345.9,176.9 346.4,167.1 346.9,164.9 347.4,165.9 347.9,163.6 348.4,166.5 348.9,164.7 349.4,164.3 349.9,167.4 350.4,165.0 350.9,166.5 351.4,169.8 351.9,170.8 352.4,169.4 352.9,167.2 353.4,170.0 353.9,167.6 354.4,165.3 354.9,165.3 355.4,167.5 355.9,163.5 356.4,161.7 356.9,159.9 357.7,158.4 358.5,159.9 359.0,161.8 359.5,161.2 360.0,163.5 360.5,164.8 361.0,163.7 361.5,161.5 362.0,161.2 362.6,150.5 363.0,177.9 363.5,169.2 364.0,164.6 364.5,166.8 365.0,166.1 365.5,164.3 366.0,161.9 366.5,161.6 367.0,161.0 367.5,162.8 368.0,165.0 368.5,171.0 369.0,169.1 369.5,165.7 370.0,165.0 370.5,163.4 371.0,162.5 371.5,161.7 372.0,161.0 372.5,162.4 373.0,160.6 373.5,159.9 374.0,159.0 374.5,158.3 375.0,160.0 375.5,158.4 376.0,157.9 376.4,158.9 376.9,163.0 377.4,166.5 377.9,167.9 378.4,161.8 379.0,146.5 379.4,178.9 379.9,167.0 380.4,165.5 380.9,167.3 381.4,168.8 381.9,167.2 382.4,165.6 382.9,167.0 383.4,166.0 383.9,163.7 384.4,165.6 384.9,166.6 385.4,169.0 385.9,170.9 386.4,169.2 386.9,167.0 387.4,166.3 387.9,164.9 388.4,163.7 388.9,162.5 389.4,163.3 389.9,162.1 390.4,161.4 390.9,158.8 391.4,157.1 391.9,159.9 392.4,161.6 392.9,160.6 393.4,159.8 393.9,160.6 394.4,161.2 394.9,160.6 395.7,160.5 396.2,163.9 396.6,146.0 397.0,174.9 397.5,166.0 398.0,166.8 398.5,168.9 399.0,165.3 399.5,164.1 400.0,165.1 400.5,167.6 401.0,168.1 401.5,171.1 402.0,171.1 402.5,171.7 403.0,171.3 403.5,168.9 404.0,167.0 404.5,165.7 405.0,164.3 405.5,162.4 406.0,164.1 406.5,162.0 407.0,160.1 407.5,161.2 408.0,158.6 408.5,157.8 409.0,157.4 409.5,155.5 410.0,159.3 410.5,160.8 411.0,162.1 411.5,162.5 412.0,163.8 412.5,165.3 413.0,163.0 413.5,146.5 413.9,174.9 414.3,166.5 414.9,165.2 415.4,165.9 415.9,165.0 416.4,163.4 416.9,162.2 417.4,160.8 417.9,159.4 418.4,161.0 418.9,166.4 419.4,169.3 419.9,171.2 420.4,169.2 420.9,167.3 421.4,168.4 421.9,165.4 422.4,164.4 422.9,164.8 423.4,166.9 423.9,165.4 424.4,162.6 424.9,160.6 425.4,159.8 425.9,160.6 426.4,160.1 426.9,158.7 427.4,158.1 427.9,161.0 428.4,164.2 428.9,164.5 429.4,162.4 430.0,146.5 430.4,178.9 430.9,166.8 431.4,166.1 431.9,164.3 432.4,164.2 432.9,165.7 433.7,166.3 434.2,163.7 434.7,165.9 435.2,167.6 435.7,167.1 436.2,169.2 436.7,171.9 437.2,170.3 437.7,166.9 438.2,165.9 438.7,165.0 439.2,164.1 439.7,165.4 440.2,162.3 440.7,162.2 441.2,161.6 441.7,159.5 442.2,158.5 442.7,160.5 443.2,160.4 443.7,161.8 444.2,162.8 444.7,164.3 445.2,164.4 445.7,167.1 446.2,167.5 446.6,161.6 447.0,148.0 447.4,177.9 447.8,168.8 448.3,167.1 448.8,164.9 449.3,163.2 449.8,164.0 450.3,162.3 450.8,160.7 451.3,162.8 451.8,165.4 452.2,168.1 452.7,170.0 453.2,168.4 453.7,166.2 454.2,166.0 454.7,164.8 455.2,164.3 455.7,164.2 456.2,166.2 456.7,167.1 457.2,165.3 457.7,163.2 458.2,162.1 458.7,160.4 459.2,158.9 459.7,158.4 460.2,158.8 460.7,160.7 461.2,162.2 461.7,162.8 462.2,164.2 462.7,162.9 463.2,165.0 463.7,166.1 464.0,144.5 464.5,170.9 464.9,166.1 465.4,163.9 465.9,162.9 466.4,163.9 466.9,164.5 467.4,163.4 467.9,161.8 468.4,163.3 468.9,164.2 469.4,166.0 469.9,168.5 470.4,170.7 470.9,170.3 471.7,168.0 472.2,170.4 472.7,168.8 473.2,167.5 473.7,167.6 474.2,166.4 474.7,167.1 475.2,163.9 475.7,161.8 476.2,160.5 476.7,162.2 477.2,160.9 477.7,159.5 478.2,162.3 478.7,164.3 479.2,163.1 479.7,161.9 480.2,159.6 480.6,147.0 481.0,166.8 481.4,178.9 481.8,167.1 482.3,165.5 482.8,163.8 483.3,165.2 483.8,163.1 484.3,160.7 484.8,162.0 485.3,163.5 485.8,166.0 486.3,167.8 486.8,168.7 487.3,166.9 487.8,164.9 488.3,164.7 488.8,162.9 489.3,165.2 489.8,167.2 490.2,165.8 490.7,165.1 491.2,163.7 491.7,162.7 492.2,162.0 492.7,161.0 493.2,159.5 493.7,160.8 494.2,160.0 494.7,161.5 495.2,162.9 495.7,163.9 496.2,163.3 496.7,160.7 497.2,158.6 497.5,145.5 497.9,170.8 498.4,174.3 498.9,167.1 499.4,165.1 499.9,162.4 500.4,161.1 500.9,161.9 501.4,161.2 501.9,163.0 502.4,160.4 502.9,161.8 503.4,163.8 503.9,166.1 504.4,167.9 504.9,169.3 505.4,167.5 505.9,164.7 506.4,163.2 506.9,162.1 507.4,163.9 507.9,165.3 508.4,166.5 508.9,163.6 509.7,163.0 510.2,162.0 510.7,164.4 511.2,165.9 511.7,163.3 512.2,163.5 512.7,165.3 513.2,162.8 513.7,147.0 514.1,175.9 514.7,164.7 515.2,162.7 515.7,162.1 516.2,160.6 516.7,161.8 517.2,162.5 517.7,160.6 518.2,161.9 518.7,164.0 519.2,166.0 519.7,169.8 520.2,170.9 520.7,171.6 521.2,170.2 521.7,167.4 522.2,166.6 522.7,165.4 523.2,163.6 523.7,162.5 524.2,163.7 524.7,165.3 525.2,167.1 525.7,165.9 526.2,164.3 526.7,162.8 527.1,164.7 527.6,162.5 528.1,161.9 528.6,162.9 529.1,164.4 529.6,163.0 530.1,161.7 530.8,141.0 531.2,171.9 531.7,164.9 532.2,164.0 532.7,164.2 533.2,166.1 533.7,163.9 534.2,162.9 534.7,162.2 535.2,162.4 535.7,164.2 536.2,169.3 536.6,176.8 537.0,179.7 537.4,171.3 537.9,164.9 538.4,159.6 538.9,157.0 539.4,157.9" fill="none" stroke="#0f8a0f" stroke-width="1.1" stroke-linejoin="round"/>
<rect x="319.5" y="138.5" width="221.00" height="42.20" fill="none" stroke="#666666" stroke-width="1"/>
<line x1="319.5" y1="180.7" x2="319.5" y2="179.1" stroke="#666666" stroke-width="0.7"/>
<line x1="319.5" y1="138.5" x2="319.5" y2="140.1" stroke="#666666" stroke-width="0.7"/>
<text x="319.5" y="188.6" text-anchor="middle" style="font-family:'Liberation Sans',Arial,sans-serif;font-size:6.0px;fill:#222">0</text>
<line x1="351.1" y1="180.7" x2="351.1" y2="179.1" stroke="#666666" stroke-width="0.7"/>
<line x1="351.1" y1="138.5" x2="351.1" y2="140.1" stroke="#666666" stroke-width="0.7"/>
<text x="351.1" y="188.6" text-anchor="middle" style="font-family:'Liberation Sans',Arial,sans-serif;font-size:6.0px;fill:#222">2</text>
<line x1="382.6" y1="180.7" x2="382.6" y2="179.1" stroke="#666666" stroke-width="0.7"/>
<line x1="382.6" y1="138.5" x2="382.6" y2="140.1" stroke="#666666" stroke-width="0.7"/>
<text x="382.6" y="188.6" text-anchor="middle" style="font-family:'Liberation Sans',Arial,sans-serif;font-size:6.0px;fill:#222">4</text>
<line x1="414.2" y1="180.7" x2="414.2" y2="179.1" stroke="#666666" stroke-width="0.7"/>
<line x1="414.2" y1="138.5" x2="414.2" y2="140.1" stroke="#666666" stroke-width="0.7"/>
<text x="414.2" y="188.6" text-anchor="middle" style="font-family:'Liberation Sans',Arial,sans-serif;font-size:6.0px;fill:#222">6</text>
<line x1="445.8" y1="180.7" x2="445.8" y2="179.1" stroke="#666666" stroke-width="0.7"/>
<line x1="445.8" y1="138.5" x2="445.8" y2="140.1" stroke="#666666" stroke-width="0.7"/>
<text x="445.8" y="188.6" text-anchor="middle" style="font-family:'Liberation Sans',Arial,sans-serif;font-size:6.0px;fill:#222">8</text>
<line x1="477.4" y1="180.7" x2="477.4" y2="179.1" stroke="#666666" stroke-width="0.7"/>
<line x1="477.4" y1="138.5" x2="477.4" y2="140.1" stroke="#666666" stroke-width="0.7"/>
<text x="477.4" y="188.6" text-anchor="middle" style="font-family:'Liberation Sans',Arial,sans-serif;font-size:6.0px;fill:#222">10</text>
<line x1="508.9" y1="180.7" x2="508.9" y2="179.1" stroke="#666666" stroke-width="0.7"/>
<line x1="508.9" y1="138.5" x2="508.9" y2="140.1" stroke="#666666" stroke-width="0.7"/>
<text x="508.9" y="188.6" text-anchor="middle" style="font-family:'Liberation Sans',Arial,sans-serif;font-size:6.0px;fill:#222">12</text>
<line x1="540.5" y1="180.7" x2="540.5" y2="179.1" stroke="#666666" stroke-width="0.7"/>
<line x1="540.5" y1="138.5" x2="540.5" y2="140.1" stroke="#666666" stroke-width="0.7"/>
<text x="540.5" y="188.6" text-anchor="middle" style="font-family:'Liberation Sans',Arial,sans-serif;font-size:6.0px;fill:#222">14</text>
<line x1="319.5" y1="142.5" x2="321.1" y2="142.5" stroke="#666666" stroke-width="0.7"/>
<line x1="540.5" y1="142.5" x2="538.9" y2="142.5" stroke="#666666" stroke-width="0.7"/>
<text x="317.7" y="144.6" text-anchor="end" style="font-family:'Liberation Sans',Arial,sans-serif;font-size:6.0px;fill:#222">0.4</text>
<line x1="319.5" y1="153.7" x2="321.1" y2="153.7" stroke="#666666" stroke-width="0.7"/>
<line x1="540.5" y1="153.7" x2="538.9" y2="153.7" stroke="#666666" stroke-width="0.7"/>
<text x="317.7" y="155.8" text-anchor="end" style="font-family:'Liberation Sans',Arial,sans-serif;font-size:6.0px;fill:#222">0.2</text>
<line x1="319.5" y1="164.8" x2="321.1" y2="164.8" stroke="#666666" stroke-width="0.7"/>
<line x1="540.5" y1="164.8" x2="538.9" y2="164.8" stroke="#666666" stroke-width="0.7"/>
<text x="317.7" y="166.9" text-anchor="end" style="font-family:'Liberation Sans',Arial,sans-serif;font-size:6.0px;fill:#222">0</text>
<line x1="319.5" y1="176.0" x2="321.1" y2="176.0" stroke="#666666" stroke-width="0.7"/>
<line x1="540.5" y1="176.0" x2="538.9" y2="176.0" stroke="#666666" stroke-width="0.7"/>
<text x="317.7" y="178.1" text-anchor="end" style="font-family:'Liberation Sans',Arial,sans-serif;font-size:6.0px;fill:#222">-0.2</text>
<text x="427.30" y="135.7" text-anchor="middle" textLength="84.30" lengthAdjust="spacingAndGlyphs" style="font-family:'Liberation Sans',Arial,sans-serif;font-weight:bold;font-size:6.6px;fill:#111">Output of proposed algorithm</text>
<clipPath id="cc1"><rect x="29.45" y="240.9" width="216.95000000000002" height="41.99999999999997"/></clipPath>
<polyline clip-path="url(#cc1)" points="29.6,264.6 31.3,263.5 32.9,262.5 34.5,261.4 36.2,260.3 37.8,259.2 38.9,243.4 39.5,260.8 40.5,262.5 41.6,261.9 42.7,260.8 43.8,260.3 44.9,261.9 46.0,260.3 46.8,258.1 47.4,267.4 48.2,265.2 49.3,263.0 50.4,261.4 52.0,261.9 53.6,262.5 55.3,261.9 56.9,261.4 58.5,260.8 59.9,260.3 60.7,259.7 61.4,249.4 62.0,263.0 62.9,264.1 64.0,264.1 65.1,264.6 66.2,263.5 67.3,260.3 67.8,258.6 68.4,258.1 68.9,271.7 69.5,260.8 70.3,258.6 71.1,257.0 72.2,256.5 73.3,259.2 74.0,264.1 74.9,265.2 76.0,264.6 77.1,264.1 78.2,263.5 79.3,263.0 80.4,261.4 81.5,260.8 82.2,258.6 82.8,245.0 83.4,260.8 84.2,263.0 85.3,262.5 86.4,260.8 87.5,258.6 88.2,260.3 89.3,259.2 90.4,258.1 91.2,261.9 92.3,262.5 93.6,261.9 95.3,261.4 96.9,262.5 98.5,261.9 100.2,261.4 101.8,260.8 103.5,260.3 104.5,246.6 105.1,261.9 106.2,263.5 107.3,263.0 108.4,261.9 109.5,260.8 110.5,259.7 111.3,258.6 111.7,273.9 112.4,260.8 113.3,257.5 114.1,256.5 115.2,255.9 116.0,258.6 116.8,263.5 117.6,264.6 118.7,264.1 120.4,263.5 122.0,262.5 123.6,261.9 124.4,260.3 124.9,247.2 125.5,261.9 126.4,264.1 127.5,263.5 128.8,261.9 130.2,260.8 131.3,259.2 131.8,273.9 132.4,260.8 133.1,258.1 134.0,257.0 135.1,256.5 136.2,259.7 137.1,263.0 138.1,264.1 139.5,264.6 141.1,263.5 142.7,262.5 144.4,260.8 145.1,245.5 146.0,261.9 147.1,263.5 148.4,263.5 150.0,262.5 151.6,260.8 152.7,259.2 153.3,273.9 153.8,260.8 154.9,258.1 156.0,257.0 156.9,257.5 157.6,261.9 158.4,264.6 159.8,264.1 161.5,263.0 163.1,261.9 164.5,260.3 165.6,243.9 166.1,261.9 167.1,263.0 168.2,260.8 169.3,259.2 170.2,260.8 171.3,260.3 172.4,254.3 172.9,260.8 173.5,267.4 174.3,261.9 175.6,260.8 176.7,260.3 177.8,263.0 178.9,264.6 180.5,264.1 182.2,263.0 183.8,262.5 185.5,261.9 186.5,258.6 187.0,248.3 187.5,263.0 188.5,263.5 189.6,261.9 190.9,260.8 192.5,259.2 193.6,258.1 194.4,280.5 195.1,260.8 196.1,257.0 197.2,255.9 198.0,257.5 199.1,263.5 200.2,265.2 201.8,264.1 203.5,263.0 203.6,262.5 205.1,261.4 206.3,260.4 206.9,249.7 207.5,264.5 208.7,265.0 210.2,264.0 211.7,263.0 212.7,260.9 213.5,258.4 214.1,277.7 214.7,259.4 215.5,255.8 216.5,253.8 217.3,253.8 218.1,259.4 218.9,264.0 219.9,263.5 221.4,263.0 222.9,261.9 224.5,260.9 226.0,259.9 226.7,246.1 227.5,260.9 228.5,263.5 230.1,264.0 231.6,263.5 233.1,261.9 234.2,259.9 234.9,278.3 235.5,259.9 236.5,256.8 237.7,255.8 238.7,257.4 239.8,263.5 240.6,266.0 241.8,265.0 243.3,264.0 244.9,263.0 246.1,261.9" fill="none" stroke="#0000ff" stroke-width="1.2" stroke-linejoin="round"/>
<rect x="29.45" y="240.9" width="216.95" height="42.00" fill="none" stroke="#666666" stroke-width="1"/>
<line x1="29.4" y1="282.9" x2="29.4" y2="281.29999999999995" stroke="#666666" stroke-width="0.7"/>
<line x1="29.4" y1="240.9" x2="29.4" y2="242.5" stroke="#666666" stroke-width="0.7"/>
<text x="29.4" y="290.8" text-anchor="middle" style="font-family:'Liberation Sans',Arial,sans-serif;font-size:6.0px;fill:#222">0</text>
<line x1="60.4" y1="282.9" x2="60.4" y2="281.29999999999995" stroke="#666666" stroke-width="0.7"/>
<line x1="60.4" y1="240.9" x2="60.4" y2="242.5" stroke="#666666" stroke-width="0.7"/>
<text x="60.4" y="290.8" text-anchor="middle" style="font-family:'Liberation Sans',Arial,sans-serif;font-size:6.0px;fill:#222">2</text>
<line x1="91.4" y1="282.9" x2="91.4" y2="281.29999999999995" stroke="#666666" stroke-width="0.7"/>
<line x1="91.4" y1="240.9" x2="91.4" y2="242.5" stroke="#666666" stroke-width="0.7"/>
<text x="91.4" y="290.8" text-anchor="middle" style="font-family:'Liberation Sans',Arial,sans-serif;font-size:6.0px;fill:#222">4</text>
<line x1="122.4" y1="282.9" x2="122.4" y2="281.29999999999995" stroke="#666666" stroke-width="0.7"/>
<line x1="122.4" y1="240.9" x2="122.4" y2="242.5" stroke="#666666" stroke-width="0.7"/>
<text x="122.4" y="290.8" text-anchor="middle" style="font-family:'Liberation Sans',Arial,sans-serif;font-size:6.0px;fill:#222">6</text>
<line x1="153.4" y1="282.9" x2="153.4" y2="281.29999999999995" stroke="#666666" stroke-width="0.7"/>
<line x1="153.4" y1="240.9" x2="153.4" y2="242.5" stroke="#666666" stroke-width="0.7"/>
<text x="153.4" y="290.8" text-anchor="middle" style="font-family:'Liberation Sans',Arial,sans-serif;font-size:6.0px;fill:#222">8</text>
<line x1="184.4" y1="282.9" x2="184.4" y2="281.29999999999995" stroke="#666666" stroke-width="0.7"/>
<line x1="184.4" y1="240.9" x2="184.4" y2="242.5" stroke="#666666" stroke-width="0.7"/>
<text x="184.4" y="290.8" text-anchor="middle" style="font-family:'Liberation Sans',Arial,sans-serif;font-size:6.0px;fill:#222">10</text>
<line x1="215.4" y1="282.9" x2="215.4" y2="281.29999999999995" stroke="#666666" stroke-width="0.7"/>
<line x1="215.4" y1="240.9" x2="215.4" y2="242.5" stroke="#666666" stroke-width="0.7"/>
<text x="215.4" y="290.8" text-anchor="middle" style="font-family:'Liberation Sans',Arial,sans-serif;font-size:6.0px;fill:#222">12</text>
<line x1="246.4" y1="282.9" x2="246.4" y2="281.29999999999995" stroke="#666666" stroke-width="0.7"/>
<line x1="246.4" y1="240.9" x2="246.4" y2="242.5" stroke="#666666" stroke-width="0.7"/>
<text x="246.4" y="290.8" text-anchor="middle" style="font-family:'Liberation Sans',Arial,sans-serif;font-size:6.0px;fill:#222">14</text>
<line x1="29.45" y1="240.9" x2="31.05" y2="240.9" stroke="#666666" stroke-width="0.7"/>
<line x1="246.4" y1="240.9" x2="244.8" y2="240.9" stroke="#666666" stroke-width="0.7"/>
<text x="27.6" y="243.0" text-anchor="end" style="font-family:'Liberation Sans',Arial,sans-serif;font-size:6.0px;fill:#222">2</text>
<line x1="29.45" y1="261.9" x2="31.05" y2="261.9" stroke="#666666" stroke-width="0.7"/>
<line x1="246.4" y1="261.9" x2="244.8" y2="261.9" stroke="#666666" stroke-width="0.7"/>
<text x="27.6" y="264.0" text-anchor="end" style="font-family:'Liberation Sans',Arial,sans-serif;font-size:6.0px;fill:#222">0</text>
<line x1="29.45" y1="282.9" x2="31.05" y2="282.9" stroke="#666666" stroke-width="0.7"/>
<line x1="246.4" y1="282.9" x2="244.8" y2="282.9" stroke="#666666" stroke-width="0.7"/>
<text x="27.6" y="285.0" text-anchor="end" style="font-family:'Liberation Sans',Arial,sans-serif;font-size:6.0px;fill:#222">-2</text>
<text x="136.75" y="238.1" text-anchor="middle" textLength="53.60" lengthAdjust="spacingAndGlyphs" style="font-family:'Liberation Sans',Arial,sans-serif;font-weight:bold;font-size:6.6px;fill:#111">Original clean ECG</text>
<clipPath id="cc2"><rect x="29.45" y="303.8" width="216.95000000000002" height="41.75"/></clipPath>
<polyline clip-path="url(#cc2)" points="29.6,328.2 30.4,324.3 31.3,322.2 32.1,323.6 32.9,330.7 33.7,329.1 34.5,325.7 35.4,328.0 36.5,326.8 37.6,324.1 38.7,321.9 39.2,304.2 40.0,324.0 40.5,332.7 41.3,333.3 42.2,327.3 43.3,328.5 44.4,326.4 45.5,319.3 46.3,316.2 47.1,319.1 47.9,333.7 48.5,334.4 49.3,330.7 50.4,328.3 51.5,327.7 52.5,322.9 53.6,318.4 54.4,319.6 55.3,328.1 56.1,331.3 56.9,328.0 58.0,327.8 59.1,326.2 60.2,320.6 60.7,318.1 61.4,304.2 62.0,318.4 62.9,329.6 63.8,333.5 64.7,332.4 65.6,330.4 66.7,327.4 67.8,320.4 68.6,315.0 69.5,316.3 70.0,320.2 70.8,323.3 71.6,328.7 72.5,325.3 73.3,329.3 74.4,332.8 75.5,330.3 76.5,324.7 77.6,320.5 78.5,325.1 79.3,330.3 80.4,328.1 81.5,325.7 82.2,319.0 82.8,310.7 83.4,319.3 84.2,318.7 85.3,324.3 86.4,328.3 87.5,326.7 88.2,327.0 89.3,324.8 90.4,327.6 91.5,324.2 92.3,322.8 93.1,320.7 93.9,323.2 94.7,330.7 95.8,332.0 96.9,329.9 98.0,326.8 99.1,321.6 100.2,319.4 101.3,320.5 102.4,323.7 103.2,329.3 104.0,320.8 104.5,314.0 105.1,327.6 105.9,331.3 106.7,329.1 107.6,323.4 108.4,320.8 109.1,318.6 109.8,323.5 110.5,328.1 111.3,329.5 111.9,340.2 112.4,330.8 113.3,323.8 114.1,320.7 115.0,317.4 115.7,319.3 116.5,326.1 117.4,332.6 118.2,331.7 119.3,329.0 120.4,328.3 121.5,326.5 122.5,324.5 123.6,319.2 124.4,316.3 125.1,320.5 125.7,332.2 126.6,330.3 127.5,328.2 128.5,326.3 129.6,319.5 130.5,315.1 131.3,309.6 131.8,319.9 132.4,328.1 133.1,325.0 134.2,321.2 135.1,323.7 136.0,326.9 137.1,330.4 138.1,327.6 139.2,320.9 140.0,318.3 140.8,321.9 141.6,327.7 142.5,330.5 143.3,326.1 144.4,319.2 145.5,317.9 145.3,311.8 146.0,321.3 146.7,320.7 147.5,323.8 148.4,328.5 149.5,329.3 150.5,328.5 151.6,328.7 152.7,324.7 153.3,336.9 153.8,323.3 154.7,319.3 155.5,318.5 156.2,321.0 157.1,326.9 158.2,331.6 159.3,331.5 160.4,327.8 161.5,322.4 162.5,319.3 163.6,322.4 164.7,328.2 165.1,312.9 165.8,327.4 166.7,331.0 167.8,326.6 168.9,321.6 170.0,317.3 170.7,319.3 171.5,323.8 172.4,328.7 173.2,333.8 174.0,332.8 175.1,329.9 176.2,324.0 177.3,321.8 178.4,319.6 179.5,322.5 180.5,328.5 181.6,330.4 182.7,330.4 183.8,329.1 184.9,323.2 186.0,318.9 186.5,306.9 187.2,321.8 188.1,327.2 188.9,331.0 190.0,329.5 191.1,326.7 192.2,323.7 193.3,318.8 194.0,314.6 194.4,336.9 195.1,318.7 195.8,319.4 196.7,324.0 197.7,328.8 198.8,333.5 199.9,334.0 200.9,328.2 202.0,321.2 203.5,319.7 204.3,322.4 205.3,328.5 206.3,333.0 207.3,333.4 208.4,327.4 209.4,322.8 210.4,319.4 211.4,318.8 212.2,322.8 213.1,326.8 213.6,328.8 214.1,344.8 214.6,327.8 215.3,322.8 216.3,316.8 217.3,314.2 218.4,317.1 219.2,324.4 219.9,331.0 220.6,333.3 221.6,331.3 222.6,328.9 223.7,327.2 224.7,322.6 225.5,318.1 226.3,317.4 227.0,307.1 227.5,322.5 228.3,330.9 229.4,332.2 230.4,331.6 231.4,328.4 232.4,321.5 233.1,316.6 233.9,315.5 234.5,322.1 234.9,335.6 235.5,324.8 236.5,324.2 237.7,324.9 238.7,327.2 239.6,330.7 240.3,326.8 241.3,322.3 242.3,319.7 243.3,322.3 244.4,328.4 245.4,332.1 246.1,329.5" fill="none" stroke="#ff0000" stroke-width="1.0" stroke-linejoin="round"/>
<rect x="29.45" y="303.8" width="216.95" height="41.75" fill="none" stroke="#666666" stroke-width="1"/>
<line x1="29.4" y1="345.55" x2="29.4" y2="343.95" stroke="#666666" stroke-width="0.7"/>
<line x1="29.4" y1="303.8" x2="29.4" y2="305.40000000000003" stroke="#666666" stroke-width="0.7"/>
<text x="29.4" y="353.4" text-anchor="middle" style="font-family:'Liberation Sans',Arial,sans-serif;font-size:6.0px;fill:#222">0</text>
<line x1="60.4" y1="345.55" x2="60.4" y2="343.95" stroke="#666666" stroke-width="0.7"/>
<line x1="60.4" y1="303.8" x2="60.4" y2="305.40000000000003" stroke="#666666" stroke-width="0.7"/>
<text x="60.4" y="353.4" text-anchor="middle" style="font-family:'Liberation Sans',Arial,sans-serif;font-size:6.0px;fill:#222">2</text>
<line x1="91.4" y1="345.55" x2="91.4" y2="343.95" stroke="#666666" stroke-width="0.7"/>
<line x1="91.4" y1="303.8" x2="91.4" y2="305.40000000000003" stroke="#666666" stroke-width="0.7"/>
<text x="91.4" y="353.4" text-anchor="middle" style="font-family:'Liberation Sans',Arial,sans-serif;font-size:6.0px;fill:#222">4</text>
<line x1="122.4" y1="345.55" x2="122.4" y2="343.95" stroke="#666666" stroke-width="0.7"/>
<line x1="122.4" y1="303.8" x2="122.4" y2="305.40000000000003" stroke="#666666" stroke-width="0.7"/>
<text x="122.4" y="353.4" text-anchor="middle" style="font-family:'Liberation Sans',Arial,sans-serif;font-size:6.0px;fill:#222">6</text>
<line x1="153.4" y1="345.55" x2="153.4" y2="343.95" stroke="#666666" stroke-width="0.7"/>
<line x1="153.4" y1="303.8" x2="153.4" y2="305.40000000000003" stroke="#666666" stroke-width="0.7"/>
<text x="153.4" y="353.4" text-anchor="middle" style="font-family:'Liberation Sans',Arial,sans-serif;font-size:6.0px;fill:#222">8</text>
<line x1="184.4" y1="345.55" x2="184.4" y2="343.95" stroke="#666666" stroke-width="0.7"/>
<line x1="184.4" y1="303.8" x2="184.4" y2="305.40000000000003" stroke="#666666" stroke-width="0.7"/>
<text x="184.4" y="353.4" text-anchor="middle" style="font-family:'Liberation Sans',Arial,sans-serif;font-size:6.0px;fill:#222">10</text>
<line x1="215.4" y1="345.55" x2="215.4" y2="343.95" stroke="#666666" stroke-width="0.7"/>
<line x1="215.4" y1="303.8" x2="215.4" y2="305.40000000000003" stroke="#666666" stroke-width="0.7"/>
<text x="215.4" y="353.4" text-anchor="middle" style="font-family:'Liberation Sans',Arial,sans-serif;font-size:6.0px;fill:#222">12</text>
<line x1="246.4" y1="345.55" x2="246.4" y2="343.95" stroke="#666666" stroke-width="0.7"/>
<line x1="246.4" y1="303.8" x2="246.4" y2="305.40000000000003" stroke="#666666" stroke-width="0.7"/>
<text x="246.4" y="353.4" text-anchor="middle" style="font-family:'Liberation Sans',Arial,sans-serif;font-size:6.0px;fill:#222">14</text>
<line x1="29.45" y1="306.0" x2="31.05" y2="306.0" stroke="#666666" stroke-width="0.7"/>
<line x1="246.4" y1="306.0" x2="244.8" y2="306.0" stroke="#666666" stroke-width="0.7"/>
<text x="27.6" y="308.1" text-anchor="end" style="font-family:'Liberation Sans',Arial,sans-serif;font-size:6.0px;fill:#222">2</text>
<line x1="29.45" y1="325.8" x2="31.05" y2="325.8" stroke="#666666" stroke-width="0.7"/>
<line x1="246.4" y1="325.8" x2="244.8" y2="325.8" stroke="#666666" stroke-width="0.7"/>
<text x="27.6" y="327.9" text-anchor="end" style="font-family:'Liberation Sans',Arial,sans-serif;font-size:6.0px;fill:#222">0</text>
<line x1="29.45" y1="345.6" x2="31.05" y2="345.6" stroke="#666666" stroke-width="0.7"/>
<line x1="246.4" y1="345.6" x2="244.8" y2="345.6" stroke="#666666" stroke-width="0.7"/>
<text x="27.6" y="347.7" text-anchor="end" style="font-family:'Liberation Sans',Arial,sans-serif;font-size:6.0px;fill:#222">-2</text>
<text x="136.30" y="301.0" text-anchor="middle" textLength="68.30" lengthAdjust="spacingAndGlyphs" style="font-family:'Liberation Sans',Arial,sans-serif;font-weight:bold;font-size:6.6px;fill:#111">CPR-contaminated ECG</text>
<clipPath id="cc3"><rect x="29.45" y="366.7" width="216.95000000000002" height="41.69999999999999"/></clipPath>
<polyline clip-path="url(#cc3)" points="29.6,392.3 30.2,389.0 31.1,391.7 31.8,387.1 32.6,385.1 33.5,384.2 34.3,385.6 35.4,386.2 36.5,387.5 37.6,388.9 38.4,391.7 39.1,373.2 39.8,391.1 40.5,392.2 41.1,386.1 42.0,388.5 43.1,386.8 44.1,388.6 45.2,386.5 46.3,386.6 47.1,385.5 47.6,394.5 48.3,387.4 49.3,387.3 50.4,387.5 51.5,387.5 52.5,388.3 53.6,387.2 54.7,384.7 55.8,383.6 56.6,386.0 57.5,389.6 58.3,390.8 59.4,387.6 60.5,388.7 61.4,378.1 62.0,391.7 62.9,390.5 64.0,389.3 65.1,386.9 66.2,383.3 67.1,386.4 67.9,386.8 68.6,383.9 69.2,396.6 69.9,386.2 70.8,383.6 71.6,385.6 72.5,382.2 73.4,386.8 74.3,391.3 75.1,389.6 76.0,387.3 76.9,386.4 77.7,387.8 78.6,390.7 79.5,387.7 80.4,386.2 81.5,384.5 82.1,383.8 82.8,369.9 83.4,386.4 84.2,387.6 85.3,388.0 86.4,391.0 87.5,391.0 88.2,390.3 89.3,387.9 90.4,390.1 91.5,388.0 92.5,386.9 93.6,388.1 94.7,386.7 95.8,387.6 96.9,386.6 98.0,388.1 99.1,385.1 100.2,385.4 101.3,387.1 102.4,387.5 103.5,384.5 104.3,372.6 105.1,390.3 105.9,393.0 106.7,390.5 107.8,387.3 108.9,384.1 109.8,386.9 110.5,382.5 111.3,389.0 111.9,397.7 112.4,383.6 113.3,383.6 114.1,384.1 114.9,386.6 115.7,388.7 116.5,392.3 117.6,393.7 118.5,390.1 119.3,387.1 120.4,386.5 121.5,387.2 122.5,387.6 123.6,387.3 124.4,375.4 125.1,391.0 125.8,388.2 126.6,386.2 127.5,386.6 128.3,385.9 129.1,385.2 129.9,387.0 130.7,388.3 131.5,379.2 131.9,397.7 132.5,387.0 133.5,384.8 134.5,387.0 135.6,388.5 136.7,391.5 137.6,390.9 138.4,386.1 139.5,385.7 140.5,387.1 141.6,390.4 142.7,387.0 143.8,384.2 144.9,373.7 146.0,390.0 146.7,388.1 147.5,391.0 148.4,388.5 149.5,392.4 150.5,385.4 151.6,383.6 152.5,380.9 153.3,396.6 154.0,385.8 154.9,383.3 156.0,386.4 157.1,388.9 158.2,388.2 159.3,386.5 160.4,386.0 161.5,385.0 162.5,386.9 163.6,386.8 164.7,387.5 165.6,371.5 166.3,390.7 167.1,390.6 168.2,388.1 169.3,387.2 170.4,388.6 171.5,390.3 172.4,380.3 173.0,392.2 174.0,390.6 175.1,388.5 176.2,387.4 177.3,385.1 178.4,386.6 179.5,382.5 180.2,386.7 181.3,386.7 182.4,387.0 183.5,387.3 184.6,388.9 185.7,389.8 186.5,375.9 187.2,389.3 187.9,389.4 188.7,393.1 189.6,388.4 190.7,384.6 192.0,384.0 193.1,387.1 193.9,383.6 194.4,407.0 195.1,386.9 195.8,384.9 196.9,386.2 198.0,391.4 199.1,392.3 200.2,390.3 201.3,387.2 202.4,384.1 203.5,387.9 203.6,387.6 204.6,388.0 205.6,386.5 206.3,386.3 206.9,377.7 207.5,393.2 208.4,389.8 209.4,384.3 210.2,384.3 211.0,386.4 212.0,385.0 212.7,382.9 213.5,380.8 214.1,400.7 214.7,385.5 215.5,385.4 216.3,385.6 217.3,388.3 218.4,392.3 219.4,391.1 220.4,388.0 221.4,385.1 222.2,387.5 222.9,389.3 224.0,390.8 225.0,389.4 226.0,387.3 226.7,385.2 227.1,370.1 227.7,389.2 228.8,387.6 229.8,385.6 230.8,387.2 231.8,385.1 232.8,385.1 233.9,387.3 234.7,401.7 235.3,386.6 236.2,384.3 237.2,387.4 238.2,387.1 239.3,386.2 240.3,384.9 241.3,384.8 242.3,386.2 243.3,388.9 244.4,391.1 245.1,397.0 245.9,395.6" fill="none" stroke="#0f8a0f" stroke-width="1.1" stroke-linejoin="round"/>
<rect x="29.45" y="366.7" width="216.95" height="41.70" fill="none" stroke="#666666" stroke-width="1"/>
<line x1="29.4" y1="408.4" x2="29.4" y2="406.79999999999995" stroke="#666666" stroke-width="0.7"/>
<line x1="29.4" y1="366.7" x2="29.4" y2="368.3" stroke="#666666" stroke-width="0.7"/>
<text x="29.4" y="416.3" text-anchor="middle" style="font-family:'Liberation Sans',Arial,sans-serif;font-size:6.0px;fill:#222">0</text>
<line x1="60.4" y1="408.4" x2="60.4" y2="406.79999999999995" stroke="#666666" stroke-width="0.7"/>
<line x1="60.4" y1="366.7" x2="60.4" y2="368.3" stroke="#666666" stroke-width="0.7"/>
<text x="60.4" y="416.3" text-anchor="middle" style="font-family:'Liberation Sans',Arial,sans-serif;font-size:6.0px;fill:#222">2</text>
<line x1="91.4" y1="408.4" x2="91.4" y2="406.79999999999995" stroke="#666666" stroke-width="0.7"/>
<line x1="91.4" y1="366.7" x2="91.4" y2="368.3" stroke="#666666" stroke-width="0.7"/>
<text x="91.4" y="416.3" text-anchor="middle" style="font-family:'Liberation Sans',Arial,sans-serif;font-size:6.0px;fill:#222">4</text>
<line x1="122.4" y1="408.4" x2="122.4" y2="406.79999999999995" stroke="#666666" stroke-width="0.7"/>
<line x1="122.4" y1="366.7" x2="122.4" y2="368.3" stroke="#666666" stroke-width="0.7"/>
<text x="122.4" y="416.3" text-anchor="middle" style="font-family:'Liberation Sans',Arial,sans-serif;font-size:6.0px;fill:#222">6</text>
<line x1="153.4" y1="408.4" x2="153.4" y2="406.79999999999995" stroke="#666666" stroke-width="0.7"/>
<line x1="153.4" y1="366.7" x2="153.4" y2="368.3" stroke="#666666" stroke-width="0.7"/>
<text x="153.4" y="416.3" text-anchor="middle" style="font-family:'Liberation Sans',Arial,sans-serif;font-size:6.0px;fill:#222">8</text>
<line x1="184.4" y1="408.4" x2="184.4" y2="406.79999999999995" stroke="#666666" stroke-width="0.7"/>
<line x1="184.4" y1="366.7" x2="184.4" y2="368.3" stroke="#666666" stroke-width="0.7"/>
<text x="184.4" y="416.3" text-anchor="middle" style="font-family:'Liberation Sans',Arial,sans-serif;font-size:6.0px;fill:#222">10</text>
<line x1="215.4" y1="408.4" x2="215.4" y2="406.79999999999995" stroke="#666666" stroke-width="0.7"/>
<line x1="215.4" y1="366.7" x2="215.4" y2="368.3" stroke="#666666" stroke-width="0.7"/>
<text x="215.4" y="416.3" text-anchor="middle" style="font-family:'Liberation Sans',Arial,sans-serif;font-size:6.0px;fill:#222">12</text>
<line x1="246.4" y1="408.4" x2="246.4" y2="406.79999999999995" stroke="#666666" stroke-width="0.7"/>
<line x1="246.4" y1="366.7" x2="246.4" y2="368.3" stroke="#666666" stroke-width="0.7"/>
<text x="246.4" y="416.3" text-anchor="middle" style="font-family:'Liberation Sans',Arial,sans-serif;font-size:6.0px;fill:#222">14</text>
<line x1="29.45" y1="366.7" x2="31.05" y2="366.7" stroke="#666666" stroke-width="0.7"/>
<line x1="246.4" y1="366.7" x2="244.8" y2="366.7" stroke="#666666" stroke-width="0.7"/>
<text x="27.6" y="368.8" text-anchor="end" style="font-family:'Liberation Sans',Arial,sans-serif;font-size:6.0px;fill:#222">2</text>
<line x1="29.45" y1="387.5" x2="31.05" y2="387.5" stroke="#666666" stroke-width="0.7"/>
<line x1="246.4" y1="387.5" x2="244.8" y2="387.5" stroke="#666666" stroke-width="0.7"/>
<text x="27.6" y="389.6" text-anchor="end" style="font-family:'Liberation Sans',Arial,sans-serif;font-size:6.0px;fill:#222">0</text>
<line x1="29.45" y1="408.4" x2="31.05" y2="408.4" stroke="#666666" stroke-width="0.7"/>
<line x1="246.4" y1="408.4" x2="244.8" y2="408.4" stroke="#666666" stroke-width="0.7"/>
<text x="27.6" y="410.5" text-anchor="end" style="font-family:'Liberation Sans',Arial,sans-serif;font-size:6.0px;fill:#222">-2</text>
<text x="135.10" y="363.9" text-anchor="middle" textLength="82.10" lengthAdjust="spacingAndGlyphs" style="font-family:'Liberation Sans',Arial,sans-serif;font-weight:bold;font-size:6.6px;fill:#111">Output of proposed algorithm</text>
<clipPath id="cd1"><rect x="319.65" y="238.55" width="223.64999999999998" height="42.75"/></clipPath>
<polyline clip-path="url(#cd1)" points="319.6,256.1 320.4,255.5 321.3,252.3 322.1,250.1 322.6,276.3 323.0,251.2 323.7,243.5 324.3,249.0 325.1,252.3 325.9,255.5 326.7,258.3 327.6,260.5 328.4,262.6 329.1,260.5 330.0,251.2 330.5,249.0 331.1,274.1 331.6,253.4 332.4,252.3 333.3,251.2 334.1,252.3 334.9,255.5 335.7,261.0 336.5,262.1 337.4,258.8 338.5,254.5 339.4,252.3 339.8,280.6 340.4,253.4 341.1,251.2 342.0,249.0 342.9,247.4 343.6,254.5 344.4,260.5 345.3,258.8 346.1,255.5 346.9,253.4 347.7,255.5 348.5,253.4 349.6,249.0 350.5,254.5 351.3,277.4 351.8,253.4 352.7,249.0 353.5,247.9 354.2,253.4 355.1,258.8 356.0,259.9 356.7,257.7 357.8,254.5 358.6,251.2 359.2,278.5 359.9,253.4 360.8,250.1 361.6,247.9 362.5,253.4 363.3,258.8 364.0,258.8 364.9,255.5 366.0,252.3 366.8,250.1 367.3,279.5 368.0,252.3 368.7,247.9 369.5,246.3 370.1,252.3 370.9,258.8 371.7,259.9 372.5,256.6 373.4,253.4 374.2,251.2 374.7,279.5 375.4,252.3 376.4,247.9 377.5,247.4 377.6,251.2 378.4,255.5 379.3,257.7 380.1,255.5 381.2,252.3 382.3,250.1 383.4,278.5 384.1,251.2 384.7,245.7 385.6,250.1 386.5,254.5 387.3,256.6 388.2,257.7 389.1,258.8 390.2,258.8 391.1,252.3 391.5,278.5 392.0,250.1 392.9,246.3 393.7,250.1 394.5,252.3 395.4,255.5 396.3,258.8 397.3,262.1 398.4,256.6 399.1,249.0 399.8,245.7 400.2,275.2 400.8,251.2 401.6,251.2 402.7,251.2 403.8,253.4 404.9,258.8 406.0,259.9 407.1,254.5 407.9,250.1 408.5,278.5 409.1,250.1 410.0,247.9 411.1,247.4 412.0,251.2 413.1,256.6 414.2,259.9 415.3,258.8 416.4,256.6 417.5,255.5 418.5,253.4 419.6,251.2 420.2,276.3 420.7,251.2 421.6,249.0 422.7,248.5 423.6,252.3 424.5,255.5 425.6,258.8 426.7,256.6 427.6,251.2 428.0,279.5 428.8,250.1 429.7,248.5 430.5,249.0 431.4,254.5 432.2,258.8 433.3,259.9 434.4,257.7 435.5,255.5 435.3,251.2 436.0,278.5 436.6,252.3 437.5,249.0 438.4,246.8 439.2,252.3 440.0,257.7 440.8,259.9 441.6,256.6 442.7,253.4 443.8,255.5 444.5,258.8 444.9,277.4 445.5,251.2 446.2,246.8 447.1,249.0 448.0,253.4 449.1,255.5 450.1,257.7 451.2,258.8 452.0,256.6 452.8,278.5 453.4,250.1 454.2,247.9 454.9,251.2 455.8,253.4 456.9,255.5 458.0,254.5 459.1,257.7 460.2,259.9 460.8,250.1 461.2,274.1 461.8,251.2 462.9,249.5 464.0,251.2 465.1,254.5 466.2,258.8 467.3,259.4 468.4,256.6 469.1,253.4 470.0,249.0 470.5,276.3 471.1,252.3 472.0,249.0 473.1,247.4 473.8,253.4 474.6,258.8 475.5,259.9 476.5,257.7 477.6,255.5 478.7,253.4 479.8,251.2 480.9,249.0 481.8,278.5 482.3,251.2 483.3,249.0 484.2,247.9 485.1,254.5 485.8,258.8 486.6,262.1 487.5,254.5 488.5,250.1 489.4,279.5 490.1,250.1 490.9,247.9 491.8,246.8 492.7,252.3 493.5,255.5 493.2,255.4 494.0,259.5 495.1,258.9 496.1,255.4 496.9,252.3 497.6,250.3 498.1,277.8 498.7,251.3 499.7,247.2 500.7,250.3 501.7,255.4 502.7,259.5 503.7,257.4 504.8,255.4 505.3,279.9 505.9,252.3 506.8,247.2 507.8,246.7 508.5,252.3 509.4,257.4 510.2,261.5 510.9,256.4 511.4,253.3 512.2,259.5 512.9,257.4 513.9,253.3 515.0,249.2 515.7,246.2 516.1,275.8 516.7,250.3 517.7,248.2 518.7,247.2 519.6,251.3 520.6,256.4 521.6,258.4 522.6,254.4 523.4,250.3 524.2,278.9 524.7,252.3 525.7,249.2 526.7,248.2 527.5,252.3 528.2,257.4 529.0,260.5 530.0,257.4 531.0,254.4 532.0,252.3 532.8,277.8 533.3,251.3 534.4,247.2 534.9,244.7 535.7,251.3 536.5,255.4 537.4,257.4 538.4,256.4 539.5,255.4 540.2,260.5 540.8,279.9 541.4,252.3 542.0,246.2 542.6,245.2" fill="none" stroke="#0000ff" stroke-width="1.2" stroke-linejoin="round"/>
<rect x="319.65" y="238.55" width="223.65" height="42.75" fill="none" stroke="#666666" stroke-width="1"/>
<line x1="319.6" y1="281.3" x2="319.6" y2="279.7" stroke="#666666" stroke-width="0.7"/>
<line x1="319.6" y1="238.55" x2="319.6" y2="240.15" stroke="#666666" stroke-width="0.7"/>
<text x="319.6" y="289.2" text-anchor="middle" style="font-family:'Liberation Sans',Arial,sans-serif;font-size:6.0px;fill:#222">0</text>
<line x1="351.6" y1="281.3" x2="351.6" y2="279.7" stroke="#666666" stroke-width="0.7"/>
<line x1="351.6" y1="238.55" x2="351.6" y2="240.15" stroke="#666666" stroke-width="0.7"/>
<text x="351.6" y="289.2" text-anchor="middle" style="font-family:'Liberation Sans',Arial,sans-serif;font-size:6.0px;fill:#222">2</text>
<line x1="383.5" y1="281.3" x2="383.5" y2="279.7" stroke="#666666" stroke-width="0.7"/>
<line x1="383.5" y1="238.55" x2="383.5" y2="240.15" stroke="#666666" stroke-width="0.7"/>
<text x="383.5" y="289.2" text-anchor="middle" style="font-family:'Liberation Sans',Arial,sans-serif;font-size:6.0px;fill:#222">4</text>
<line x1="415.5" y1="281.3" x2="415.5" y2="279.7" stroke="#666666" stroke-width="0.7"/>
<line x1="415.5" y1="238.55" x2="415.5" y2="240.15" stroke="#666666" stroke-width="0.7"/>
<text x="415.5" y="289.2" text-anchor="middle" style="font-family:'Liberation Sans',Arial,sans-serif;font-size:6.0px;fill:#222">6</text>
<line x1="447.4" y1="281.3" x2="447.4" y2="279.7" stroke="#666666" stroke-width="0.7"/>
<line x1="447.4" y1="238.55" x2="447.4" y2="240.15" stroke="#666666" stroke-width="0.7"/>
<text x="447.4" y="289.2" text-anchor="middle" style="font-family:'Liberation Sans',Arial,sans-serif;font-size:6.0px;fill:#222">8</text>
<line x1="479.4" y1="281.3" x2="479.4" y2="279.7" stroke="#666666" stroke-width="0.7"/>
<line x1="479.4" y1="238.55" x2="479.4" y2="240.15" stroke="#666666" stroke-width="0.7"/>
<text x="479.4" y="289.2" text-anchor="middle" style="font-family:'Liberation Sans',Arial,sans-serif;font-size:6.0px;fill:#222">10</text>
<line x1="511.3" y1="281.3" x2="511.3" y2="279.7" stroke="#666666" stroke-width="0.7"/>
<line x1="511.3" y1="238.55" x2="511.3" y2="240.15" stroke="#666666" stroke-width="0.7"/>
<text x="511.3" y="289.2" text-anchor="middle" style="font-family:'Liberation Sans',Arial,sans-serif;font-size:6.0px;fill:#222">12</text>
<line x1="543.3" y1="281.3" x2="543.3" y2="279.7" stroke="#666666" stroke-width="0.7"/>
<line x1="543.3" y1="238.55" x2="543.3" y2="240.15" stroke="#666666" stroke-width="0.7"/>
<text x="543.3" y="289.2" text-anchor="middle" style="font-family:'Liberation Sans',Arial,sans-serif;font-size:6.0px;fill:#222">14</text>
<line x1="319.65" y1="238.6" x2="321.25" y2="238.6" stroke="#666666" stroke-width="0.7"/>
<line x1="543.3" y1="238.6" x2="541.6999999999999" y2="238.6" stroke="#666666" stroke-width="0.7"/>
<text x="317.8" y="240.7" text-anchor="end" style="font-family:'Liberation Sans',Arial,sans-serif;font-size:6.0px;fill:#222">1</text>
<line x1="319.65" y1="256.2" x2="321.25" y2="256.2" stroke="#666666" stroke-width="0.7"/>
<line x1="543.3" y1="256.2" x2="541.6999999999999" y2="256.2" stroke="#666666" stroke-width="0.7"/>
<text x="317.8" y="258.3" text-anchor="end" style="font-family:'Liberation Sans',Arial,sans-serif;font-size:6.0px;fill:#222">0</text>
<line x1="319.65" y1="273.9" x2="321.25" y2="273.9" stroke="#666666" stroke-width="0.7"/>
<line x1="543.3" y1="273.9" x2="541.6999999999999" y2="273.9" stroke="#666666" stroke-width="0.7"/>
<text x="317.8" y="276.0" text-anchor="end" style="font-family:'Liberation Sans',Arial,sans-serif;font-size:6.0px;fill:#222">-1</text>
<text x="430.20" y="235.8" text-anchor="middle" textLength="55.30" lengthAdjust="spacingAndGlyphs" style="font-family:'Liberation Sans',Arial,sans-serif;font-weight:bold;font-size:6.6px;fill:#111">Original clean ECG</text>
<clipPath id="cd2"><rect x="319.65" y="303.55" width="223.64999999999998" height="42.75"/></clipPath>
<polyline clip-path="url(#cd2)" points="319.6,327.2 320.4,326.1 321.3,324.2 322.1,333.7 322.8,317.5 323.5,308.1 324.1,314.6 324.8,325.9 325.4,334.8 326.1,327.7 326.7,326.3 327.6,327.5 328.4,326.3 329.1,325.3 330.0,322.3 330.5,317.9 331.1,314.3 331.6,312.7 332.2,317.4 333.1,328.3 333.8,330.3 334.6,323.5 335.2,322.7 336.0,326.4 336.8,324.7 337.6,322.9 338.5,320.4 339.3,313.0 339.8,318.7 340.4,330.5 341.1,325.2 342.0,322.6 342.9,324.7 343.6,327.0 344.7,325.0 345.8,322.9 346.6,316.7 347.2,315.6 348.0,319.8 348.8,326.3 349.6,332.6 350.5,328.3 351.3,339.2 351.8,331.7 352.7,321.8 353.8,320.0 354.9,317.4 355.6,320.1 356.4,322.4 357.3,325.8 358.1,329.1 358.9,339.2 359.5,329.6 360.5,321.9 361.6,319.5 362.7,319.1 363.8,322.0 364.9,327.4 366.0,331.9 366.9,333.7 367.6,338.1 368.2,326.9 369.1,321.1 370.1,318.1 371.2,319.5 372.1,325.7 373.1,329.1 373.9,333.6 374.5,341.4 375.2,329.1 376.0,321.7 376.9,317.0 377.5,316.4 378.4,316.8 379.5,319.5 380.4,325.9 381.2,332.7 382.0,331.4 382.9,323.9 383.3,338.1 384.1,322.8 384.9,318.3 385.8,319.7 386.7,314.7 387.5,317.0 388.2,325.1 389.1,332.8 389.7,337.6 390.4,333.1 391.1,326.7 391.8,322.6 392.6,320.9 393.5,315.4 394.1,311.4 394.8,316.3 395.6,322.8 396.5,332.1 397.3,339.2 398.0,329.7 398.9,322.6 399.8,319.5 400.2,337.0 400.9,322.7 401.7,317.4 402.7,315.1 403.5,319.6 404.4,326.8 405.2,335.8 406.0,333.6 406.8,327.6 407.6,322.8 408.5,323.3 409.3,327.2 410.0,318.6 410.9,314.6 411.8,316.2 412.5,325.1 413.3,335.4 414.2,336.0 415.1,329.0 415.9,326.2 417.0,323.7 418.0,319.6 419.1,317.1 419.9,324.6 420.5,342.5 421.2,328.1 422.0,322.5 423.1,319.8 424.2,328.4 425.1,327.4 426.0,319.6 426.7,315.5 427.5,320.6 428.1,339.2 428.9,330.6 430.0,327.1 431.1,328.0 432.2,325.3 433.3,320.5 434.4,316.8 435.5,316.0 435.3,320.7 436.0,333.6 436.4,343.5 437.1,328.0 437.8,322.2 438.6,320.8 439.5,322.7 440.3,327.2 441.1,322.7 441.9,317.0 442.5,314.7 443.3,317.9 444.0,325.3 444.7,343.5 445.3,328.0 446.0,322.5 446.9,320.7 448.0,321.4 449.1,322.9 450.1,317.5 450.9,316.2 451.7,320.9 452.5,327.2 453.1,345.7 453.6,329.4 454.5,325.8 455.6,324.9 456.7,323.9 457.5,317.3 458.2,319.9 459.1,323.9 460.0,328.5 460.7,330.6 461.3,343.5 461.9,329.5 462.9,323.6 464.0,321.0 465.1,314.1 465.9,318.2 466.7,322.8 467.6,326.6 468.4,333.0 469.1,331.6 469.9,326.1 470.3,337.0 471.1,328.3 472.0,320.2 473.1,313.0 473.8,317.1 474.6,325.1 475.5,331.6 476.1,335.9 476.8,330.6 477.6,327.4 478.7,326.1 479.6,322.8 480.4,318.5 481.1,312.5 481.8,319.3 482.6,330.5 483.0,325.0 483.7,331.5 484.4,324.8 485.3,326.5 486.1,323.2 486.9,320.8 488.0,315.7 488.5,311.4 489.2,319.5 489.9,330.5 490.7,326.1 491.6,323.1 492.7,324.2 493.5,323.1 494.1,322.4 495.1,317.7 496.2,313.5 497.0,318.3 497.7,329.1 498.3,335.4 498.9,328.0 499.8,326.1 500.9,326.8 501.9,325.9 502.9,323.2 503.7,319.7 504.5,321.0 505.3,328.1 505.8,340.6 506.4,330.1 507.1,326.9 508.2,325.9 509.2,326.6 510.2,324.0 511.3,318.8 512.3,321.7 513.4,324.1 514.4,328.5 515.1,334.5 515.8,340.6 516.5,328.3 517.5,322.3 518.6,318.6 519.4,315.5 520.1,318.8 521.2,323.6 522.2,328.0 523.1,332.5 523.8,341.7 524.5,327.9 525.4,323.1 526.4,318.2 527.2,315.2 528.1,319.8 529.0,324.8 530.1,330.6 530.8,335.4 531.4,330.2 532.2,325.9 533.2,319.8 534.2,315.9 534.9,314.5 535.8,318.9 536.8,324.0 537.9,329.9 538.7,334.4 539.4,330.1 540.2,325.0 540.6,339.6 541.2,321.6 541.8,316.9 542.6,311.4" fill="none" stroke="#ff0000" stroke-width="1.0" stroke-linejoin="round"/>
<rect x="319.65" y="303.55" width="223.65" height="42.75" fill="none" stroke="#666666" stroke-width="1"/>
<line x1="319.6" y1="346.3" x2="319.6" y2="344.7" stroke="#666666" stroke-width="0.7"/>
<line x1="319.6" y1="303.55" x2="319.6" y2="305.15000000000003" stroke="#666666" stroke-width="0.7"/>
<text x="319.6" y="354.2" text-anchor="middle" style="font-family:'Liberation Sans',Arial,sans-serif;font-size:6.0px;fill:#222">0</text>
<line x1="351.6" y1="346.3" x2="351.6" y2="344.7" stroke="#666666" stroke-width="0.7"/>
<line x1="351.6" y1="303.55" x2="351.6" y2="305.15000000000003" stroke="#666666" stroke-width="0.7"/>
<text x="351.6" y="354.2" text-anchor="middle" style="font-family:'Liberation Sans',Arial,sans-serif;font-size:6.0px;fill:#222">2</text>
<line x1="383.5" y1="346.3" x2="383.5" y2="344.7" stroke="#666666" stroke-width="0.7"/>
<line x1="383.5" y1="303.55" x2="383.5" y2="305.15000000000003" stroke="#666666" stroke-width="0.7"/>
<text x="383.5" y="354.2" text-anchor="middle" style="font-family:'Liberation Sans',Arial,sans-serif;font-size:6.0px;fill:#222">4</text>
<line x1="415.5" y1="346.3" x2="415.5" y2="344.7" stroke="#666666" stroke-width="0.7"/>
<line x1="415.5" y1="303.55" x2="415.5" y2="305.15000000000003" stroke="#666666" stroke-width="0.7"/>
<text x="415.5" y="354.2" text-anchor="middle" style="font-family:'Liberation Sans',Arial,sans-serif;font-size:6.0px;fill:#222">6</text>
<line x1="447.4" y1="346.3" x2="447.4" y2="344.7" stroke="#666666" stroke-width="0.7"/>
<line x1="447.4" y1="303.55" x2="447.4" y2="305.15000000000003" stroke="#666666" stroke-width="0.7"/>
<text x="447.4" y="354.2" text-anchor="middle" style="font-family:'Liberation Sans',Arial,sans-serif;font-size:6.0px;fill:#222">8</text>
<line x1="479.4" y1="346.3" x2="479.4" y2="344.7" stroke="#666666" stroke-width="0.7"/>
<line x1="479.4" y1="303.55" x2="479.4" y2="305.15000000000003" stroke="#666666" stroke-width="0.7"/>
<text x="479.4" y="354.2" text-anchor="middle" style="font-family:'Liberation Sans',Arial,sans-serif;font-size:6.0px;fill:#222">10</text>
<line x1="511.3" y1="346.3" x2="511.3" y2="344.7" stroke="#666666" stroke-width="0.7"/>
<line x1="511.3" y1="303.55" x2="511.3" y2="305.15000000000003" stroke="#666666" stroke-width="0.7"/>
<text x="511.3" y="354.2" text-anchor="middle" style="font-family:'Liberation Sans',Arial,sans-serif;font-size:6.0px;fill:#222">12</text>
<line x1="543.3" y1="346.3" x2="543.3" y2="344.7" stroke="#666666" stroke-width="0.7"/>
<line x1="543.3" y1="303.55" x2="543.3" y2="305.15000000000003" stroke="#666666" stroke-width="0.7"/>
<text x="543.3" y="354.2" text-anchor="middle" style="font-family:'Liberation Sans',Arial,sans-serif;font-size:6.0px;fill:#222">14</text>
<line x1="319.65" y1="303.6" x2="321.25" y2="303.6" stroke="#666666" stroke-width="0.7"/>
<line x1="543.3" y1="303.6" x2="541.6999999999999" y2="303.6" stroke="#666666" stroke-width="0.7"/>
<text x="317.8" y="305.7" text-anchor="end" style="font-family:'Liberation Sans',Arial,sans-serif;font-size:6.0px;fill:#222">2</text>
<line x1="319.65" y1="324.9" x2="321.25" y2="324.9" stroke="#666666" stroke-width="0.7"/>
<line x1="543.3" y1="324.9" x2="541.6999999999999" y2="324.9" stroke="#666666" stroke-width="0.7"/>
<text x="317.8" y="327.0" text-anchor="end" style="font-family:'Liberation Sans',Arial,sans-serif;font-size:6.0px;fill:#222">0</text>
<line x1="319.65" y1="346.3" x2="321.25" y2="346.3" stroke="#666666" stroke-width="0.7"/>
<line x1="543.3" y1="346.3" x2="541.6999999999999" y2="346.3" stroke="#666666" stroke-width="0.7"/>
<text x="317.8" y="348.4" text-anchor="end" style="font-family:'Liberation Sans',Arial,sans-serif;font-size:6.0px;fill:#222">-2</text>
<text x="430.35" y="300.8" text-anchor="middle" textLength="71.60" lengthAdjust="spacingAndGlyphs" style="font-family:'Liberation Sans',Arial,sans-serif;font-weight:bold;font-size:6.6px;fill:#111">CPR-contaminated ECG</text>
<clipPath id="cd3"><rect x="319.65" y="368.2" width="223.64999999999998" height="42.900000000000034"/></clipPath>
<polyline clip-path="url(#cd3)" points="319.6,404.2 320.2,397.5 320.7,385.0 321.3,379.1 321.8,387.1 322.4,385.3 322.9,372.6 323.5,373.2 324.0,380.3 324.5,387.7 325.1,399.0 325.6,403.1 326.2,392.3 326.9,391.2 327.8,390.6 328.7,383.1 329.5,378.8 330.2,377.3 330.9,393.3 331.4,376.9 332.2,381.7 333.1,387.6 333.8,385.8 334.6,388.1 335.2,394.4 336.0,388.8 336.8,384.1 337.6,385.2 338.5,382.2 339.3,381.9 339.8,407.5 340.5,381.6 341.1,378.2 342.0,379.3 342.9,376.5 343.6,387.2 344.4,388.8 345.3,385.7 346.1,388.0 346.9,388.3 347.7,387.1 348.5,390.5 349.4,389.6 350.2,378.6 350.7,374.7 351.3,403.1 351.8,383.0 352.7,378.0 353.5,383.2 354.5,388.1 355.6,388.7 356.7,391.2 357.5,387.6 358.1,379.8 358.7,378.7 359.2,400.9 359.8,381.4 360.8,382.4 361.6,385.5 362.5,388.1 363.6,384.7 364.7,381.3 365.8,383.0 366.7,384.8 367.3,407.5 368.0,386.0 368.8,384.8 369.8,388.0 370.4,392.2 371.2,383.1 372.1,382.6 373.1,386.5 373.9,387.2 374.5,403.1 375.2,384.6 376.0,382.2 376.9,383.7 377.5,386.8 378.0,387.8 378.7,385.8 379.5,383.0 380.4,387.4 381.0,392.2 381.7,385.6 382.3,377.6 382.8,376.1 383.4,404.2 384.1,382.7 384.7,379.9 385.6,394.4 386.4,383.5 387.1,382.0 388.0,386.1 388.9,387.0 389.6,392.2 390.2,380.7 390.7,379.8 391.3,404.2 391.9,378.8 392.6,376.4 393.2,382.1 394.0,387.3 394.8,391.0 395.6,389.8 396.5,386.7 397.3,392.2 398.0,386.9 398.9,379.6 399.6,378.7 400.2,407.5 400.9,382.2 401.6,381.0 402.4,387.4 403.1,391.1 403.8,385.9 404.6,384.0 405.5,382.9 406.3,385.4 407.4,384.8 408.2,381.7 408.7,406.4 409.3,384.2 410.0,381.3 410.9,385.6 411.8,379.1 412.5,386.2 413.6,390.4 414.7,388.4 415.8,386.2 416.9,385.3 418.0,386.8 419.1,386.9 420.0,381.3 420.4,400.9 421.2,381.9 422.0,380.7 422.9,384.1 424.0,385.4 425.1,387.0 426.0,386.5 426.7,383.4 427.5,380.1 428.1,404.2 428.8,385.5 429.7,387.0 430.5,388.7 431.4,386.7 432.5,382.4 433.3,382.0 434.0,388.0 434.9,389.5 435.5,388.3 435.3,384.8 436.0,382.9 436.4,406.4 437.1,385.3 437.8,388.6 438.9,388.4 440.0,385.5 441.1,388.0 441.9,383.8 442.7,380.4 443.8,386.7 444.2,375.8 444.9,404.2 445.6,381.9 446.2,384.2 447.1,381.6 448.0,384.4 448.7,388.9 449.8,391.5 450.9,386.4 452.0,382.7 452.8,407.5 453.4,380.1 454.2,378.3 454.9,388.1 455.8,387.7 456.7,385.3 457.5,380.9 458.2,384.0 459.1,385.9 460.0,382.2 460.7,380.8 461.4,404.2 461.8,374.7 462.6,384.0 463.5,387.9 464.5,386.0 465.6,388.0 466.7,388.0 467.8,391.4 468.7,386.3 469.6,381.3 470.0,404.2 470.9,383.5 471.6,384.2 472.7,383.0 473.8,383.7 474.9,384.0 476.0,392.2 476.8,388.2 477.6,382.0 478.7,383.7 479.8,385.5 480.7,381.7 481.1,378.3 481.7,406.4 482.2,382.2 483.1,379.7 484.0,381.6 484.7,384.0 485.8,388.2 486.9,390.3 488.0,384.6 488.7,376.9 489.1,406.4 489.9,379.6 490.7,379.8 491.6,384.6 492.7,387.7 493.5,387.7 493.9,385.9 494.9,385.8 496.0,389.1 497.2,382.7 497.6,405.6 498.5,387.7 499.5,390.7 500.5,391.5 501.6,387.1 502.6,386.6 503.7,384.2 504.6,379.6 505.0,403.5 505.8,381.6 506.4,372.3 507.1,381.5 507.8,384.2 508.7,384.9 509.7,384.7 510.8,386.1 511.8,380.6 512.2,387.9 513.7,381.6 514.1,386.8 515.5,378.5 515.9,405.6 516.6,380.6 517.5,384.6 518.6,386.7 519.6,385.7 520.7,384.5 521.7,386.9 522.4,393.1 523.1,389.2 523.9,381.6 524.3,406.7 524.9,379.6 525.9,386.6 526.9,391.0 528.0,387.3 529.0,384.3 529.7,381.7 530.6,386.3 531.4,388.6 532.2,379.6 532.6,402.5 533.3,382.7 534.2,383.3 535.3,386.0 536.3,383.8 537.3,386.4 538.4,384.3 539.4,381.4 540.2,377.8 540.6,410.8 541.2,382.5 541.8,380.4 542.6,375.4" fill="none" stroke="#0f8a0f" stroke-width="1.1" stroke-linejoin="round"/>
<rect x="319.65" y="368.2" width="223.65" height="42.90" fill="none" stroke="#666666" stroke-width="1"/>
<line x1="319.6" y1="411.1" x2="319.6" y2="409.5" stroke="#666666" stroke-width="0.7"/>
<line x1="319.6" y1="368.2" x2="319.6" y2="369.8" stroke="#666666" stroke-width="0.7"/>
<text x="319.6" y="419.0" text-anchor="middle" style="font-family:'Liberation Sans',Arial,sans-serif;font-size:6.0px;fill:#222">0</text>
<line x1="351.6" y1="411.1" x2="351.6" y2="409.5" stroke="#666666" stroke-width="0.7"/>
<line x1="351.6" y1="368.2" x2="351.6" y2="369.8" stroke="#666666" stroke-width="0.7"/>
<text x="351.6" y="419.0" text-anchor="middle" style="font-family:'Liberation Sans',Arial,sans-serif;font-size:6.0px;fill:#222">2</text>
<line x1="383.5" y1="411.1" x2="383.5" y2="409.5" stroke="#666666" stroke-width="0.7"/>
<line x1="383.5" y1="368.2" x2="383.5" y2="369.8" stroke="#666666" stroke-width="0.7"/>
<text x="383.5" y="419.0" text-anchor="middle" style="font-family:'Liberation Sans',Arial,sans-serif;font-size:6.0px;fill:#222">4</text>
<line x1="415.5" y1="411.1" x2="415.5" y2="409.5" stroke="#666666" stroke-width="0.7"/>
<line x1="415.5" y1="368.2" x2="415.5" y2="369.8" stroke="#666666" stroke-width="0.7"/>
<text x="415.5" y="419.0" text-anchor="middle" style="font-family:'Liberation Sans',Arial,sans-serif;font-size:6.0px;fill:#222">6</text>
<line x1="447.4" y1="411.1" x2="447.4" y2="409.5" stroke="#666666" stroke-width="0.7"/>
<line x1="447.4" y1="368.2" x2="447.4" y2="369.8" stroke="#666666" stroke-width="0.7"/>
<text x="447.4" y="419.0" text-anchor="middle" style="font-family:'Liberation Sans',Arial,sans-serif;font-size:6.0px;fill:#222">8</text>
<line x1="479.4" y1="411.1" x2="479.4" y2="409.5" stroke="#666666" stroke-width="0.7"/>
<line x1="479.4" y1="368.2" x2="479.4" y2="369.8" stroke="#666666" stroke-width="0.7"/>
<text x="479.4" y="419.0" text-anchor="middle" style="font-family:'Liberation Sans',Arial,sans-serif;font-size:6.0px;fill:#222">10</text>
<line x1="511.3" y1="411.1" x2="511.3" y2="409.5" stroke="#666666" stroke-width="0.7"/>
<line x1="511.3" y1="368.2" x2="511.3" y2="369.8" stroke="#666666" stroke-width="0.7"/>
<text x="511.3" y="419.0" text-anchor="middle" style="font-family:'Liberation Sans',Arial,sans-serif;font-size:6.0px;fill:#222">12</text>
<line x1="543.3" y1="411.1" x2="543.3" y2="409.5" stroke="#666666" stroke-width="0.7"/>
<line x1="543.3" y1="368.2" x2="543.3" y2="369.8" stroke="#666666" stroke-width="0.7"/>
<text x="543.3" y="419.0" text-anchor="middle" style="font-family:'Liberation Sans',Arial,sans-serif;font-size:6.0px;fill:#222">14</text>
<line x1="319.65" y1="368.2" x2="321.25" y2="368.2" stroke="#666666" stroke-width="0.7"/>
<line x1="543.3" y1="368.2" x2="541.6999999999999" y2="368.2" stroke="#666666" stroke-width="0.7"/>
<text x="317.8" y="370.3" text-anchor="end" style="font-family:'Liberation Sans',Arial,sans-serif;font-size:6.0px;fill:#222">1</text>
<line x1="319.65" y1="386.7" x2="321.25" y2="386.7" stroke="#666666" stroke-width="0.7"/>
<line x1="543.3" y1="386.7" x2="541.6999999999999" y2="386.7" stroke="#666666" stroke-width="0.7"/>
<text x="317.8" y="388.8" text-anchor="end" style="font-family:'Liberation Sans',Arial,sans-serif;font-size:6.0px;fill:#222">0</text>
<line x1="319.65" y1="405.2" x2="321.25" y2="405.2" stroke="#666666" stroke-width="0.7"/>
<line x1="543.3" y1="405.2" x2="541.6999999999999" y2="405.2" stroke="#666666" stroke-width="0.7"/>
<text x="317.8" y="407.3" text-anchor="end" style="font-family:'Liberation Sans',Arial,sans-serif;font-size:6.0px;fill:#222">-1</text>
<text x="428.70" y="365.4" text-anchor="middle" textLength="84.90" lengthAdjust="spacingAndGlyphs" style="font-family:'Liberation Sans',Arial,sans-serif;font-weight:bold;font-size:6.6px;fill:#111">Output of proposed algorithm</text>
<text transform="translate(12.6,95.5) rotate(-90)" text-anchor="middle" textLength="43.0" lengthAdjust="spacingAndGlyphs" style="font-family:'Liberation Sans',Arial,sans-serif;font-weight:normal;font-size:6.4px;fill:#444">Amplitude (mV)</text>
<text transform="translate(298.8,97.4) rotate(-90)" text-anchor="middle" textLength="59.0" lengthAdjust="spacingAndGlyphs" style="font-family:'Liberation Sans',Arial,sans-serif;font-weight:bold;font-size:8.6px;fill:#111">Amplitude (mV)</text>
<text transform="translate(10.1,326.1) rotate(-90)" text-anchor="middle" textLength="57.6" lengthAdjust="spacingAndGlyphs" style="font-family:'Liberation Sans',Arial,sans-serif;font-weight:bold;font-size:8.4px;fill:#111">Amplitude (mV)</text>
<text transform="translate(301.4,325.35) rotate(-90)" text-anchor="middle" textLength="58.5" lengthAdjust="spacingAndGlyphs" style="font-family:'Liberation Sans',Arial,sans-serif;font-weight:bold;font-size:8.4px;fill:#111">Amplitude (mV)</text>
<text x="139.65" y="196.1" text-anchor="middle" textLength="28.60" lengthAdjust="spacingAndGlyphs" style="font-family:'Liberation Sans',Arial,sans-serif;font-weight:normal;font-size:6.9px;fill:#444">Time (sec)</text>
<text x="430.25" y="198.6" text-anchor="middle" textLength="39.80" lengthAdjust="spacingAndGlyphs" style="font-family:'Liberation Sans',Arial,sans-serif;font-weight:bold;font-size:8.2px;fill:#111">Time (sec)</text>
<text x="137.85" y="426.3" text-anchor="middle" textLength="38.40" lengthAdjust="spacingAndGlyphs" style="font-family:'Liberation Sans',Arial,sans-serif;font-weight:bold;font-size:7.9px;fill:#111">Time (sec)</text>
<text x="431.40" y="428.8" text-anchor="middle" textLength="38.70" lengthAdjust="spacingAndGlyphs" style="font-family:'Liberation Sans',Arial,sans-serif;font-weight:bold;font-size:8.0px;fill:#111">Time (sec)</text>
<text x="131.6" y="216.0" text-anchor="middle" style="font-family:'Liberation Serif','Times New Roman',serif;font-weight:bold;font-size:11px;fill:#111">(a)</text>
<text x="423.8" y="216.0" text-anchor="middle" style="font-family:'Liberation Serif','Times New Roman',serif;font-weight:bold;font-size:11px;fill:#111">(b)</text>
<text x="131.7" y="446.0" text-anchor="middle" style="font-family:'Liberation Serif','Times New Roman',serif;font-weight:bold;font-size:11px;fill:#111">(c)</text>
<text x="423.9" y="446.0" text-anchor="middle" style="font-family:'Liberation Serif','Times New Roman',serif;font-weight:bold;font-size:11px;fill:#111">(d)</text>
</svg>
</body></html>
